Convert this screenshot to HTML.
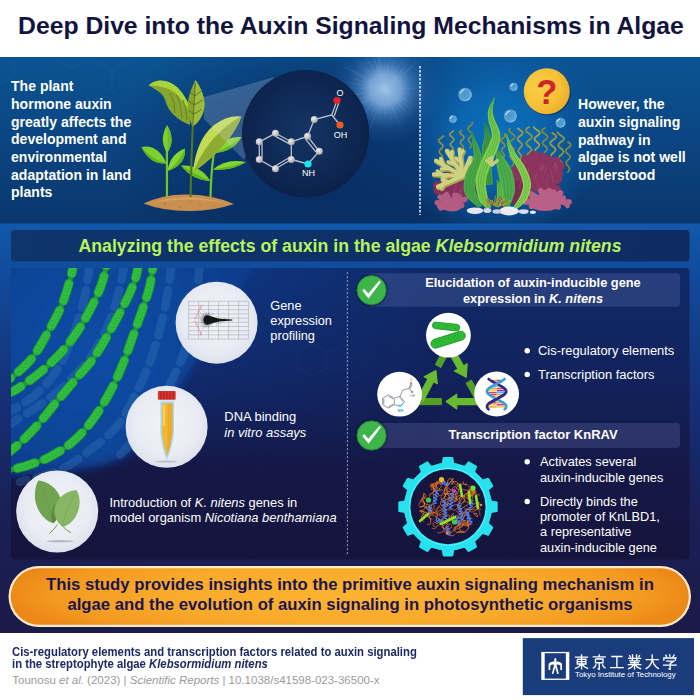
<!DOCTYPE html>
<html><head><meta charset="utf-8">
<style>
*{margin:0;padding:0;box-sizing:border-box}
html,body{width:700px;height:700px;overflow:hidden;background:#fff}
body{font-family:"Liberation Sans",sans-serif;position:relative}
.abs{position:absolute;white-space:nowrap}
#gfx{left:0;top:0;width:700px;height:700px}
#title{left:20px;top:11.5px;font-weight:bold;font-size:24.62px;line-height:28px;color:#13133f}
.t1{color:#fff;font-weight:bold;font-size:14.05px;line-height:17.65px}
.t2{color:#fff;font-size:12.75px;line-height:15.4px}
#bandt{left:78.5px;top:235.5px;font-weight:bold;font-size:17.72px;line-height:20px;color:#b8f25c}
.subt{color:#fff;font-weight:bold;font-size:12.8px;line-height:16.5px;text-align:center}
#pillt{left:0;width:700px;top:576.5px;text-align:center;font-weight:bold;font-size:16.72px;line-height:20px;color:#1c154f}
.f1{left:12.3px;font-weight:bold;font-size:12.4px;line-height:14px;color:#1d2a66;transform-origin:0 0;transform:scaleX(.913)}
.f3{left:12.3px;font-size:11.5px;line-height:14px;color:#9b9b9b}
</style></head><body>
<svg class="abs" id="gfx" viewBox="0 0 700 700" width="700" height="700"><defs>
<linearGradient id="topG" x1="0" y1="0" x2="0" y2="1"><stop offset="0" stop-color="#0b5493"/><stop offset=".5" stop-color="#0b4582"/><stop offset="1" stop-color="#0a366b"/></linearGradient>
<radialGradient id="topDark" cx="320" cy="160" r="210" gradientUnits="userSpaceOnUse" gradientTransform="translate(320 160) scale(1 .75) translate(-320 -160)"><stop offset="0" stop-color="#072559" stop-opacity=".6"/><stop offset=".55" stop-color="#072559" stop-opacity=".38"/><stop offset="1" stop-color="#072559" stop-opacity="0"/></radialGradient>
<radialGradient id="algGlow" cx="498" cy="135" r="105" gradientUnits="userSpaceOnUse"><stop offset="0" stop-color="#0a70ba" stop-opacity="1"/><stop offset=".4" stop-color="#0b69b3" stop-opacity=".9"/><stop offset=".75" stop-color="#0c5ea8" stop-opacity=".45"/><stop offset="1" stop-color="#0d5aa2" stop-opacity="0"/></radialGradient>
<linearGradient id="midG" x1="0" y1="0" x2="0" y2="1"><stop offset="0" stop-color="#1158ab"/><stop offset=".12" stop-color="#114b9b"/><stop offset=".4" stop-color="#15327a"/><stop offset=".7" stop-color="#1a2055"/><stop offset="1" stop-color="#1b1a49"/></linearGradient>
<linearGradient id="bandG" x1="0" y1="0" x2="1" y2="0"><stop offset="0" stop-color="#0e356c"/><stop offset="1" stop-color="#0e2c63"/></linearGradient>
<linearGradient id="panelG" x1="0" y1="0" x2="0" y2="1"><stop offset="0" stop-color="#0f2a68"/><stop offset=".35" stop-color="#12235d"/><stop offset=".7" stop-color="#151846"/><stop offset="1" stop-color="#15143d"/></linearGradient><linearGradient id="panelH" x1="180" y1="0" x2="440" y2="0" gradientUnits="userSpaceOnUse"><stop offset="0" stop-color="#0f44a0" stop-opacity=".55"/><stop offset="1" stop-color="#0f44a0" stop-opacity="0"/></linearGradient><linearGradient id="panelHV" x1="0" y1="268" x2="0" y2="470" gradientUnits="userSpaceOnUse"><stop offset="0" stop-color="#fff"/><stop offset="1" stop-color="#000"/></linearGradient><mask id="panelHM"><rect x="0" y="260" width="700" height="310" fill="url(#panelHV)"/></mask>
<radialGradient id="panelB" cx="95" cy="350" r="210" gradientUnits="userSpaceOnUse"><stop offset="0" stop-color="#0d4da6"/><stop offset=".5" stop-color="#0c4498"/><stop offset="1" stop-color="#0a3682"/></radialGradient>
<radialGradient id="circG" cx="305" cy="130" r="66" gradientUnits="userSpaceOnUse"><stop offset="0" stop-color="#143564"/><stop offset=".65" stop-color="#0f2955"/><stop offset="1" stop-color="#0c224b"/></radialGradient>
<radialGradient id="sunG"><stop offset="0" stop-color="#9dc2e8" stop-opacity=".95"/><stop offset=".28" stop-color="#7caadb" stop-opacity=".9"/><stop offset=".48" stop-color="#4f8ac8" stop-opacity=".58"/><stop offset=".72" stop-color="#3573b8" stop-opacity=".22"/><stop offset="1" stop-color="#2f6fb5" stop-opacity="0"/></radialGradient>
<radialGradient id="wcG" cx=".5" cy=".45" r=".55"><stop offset="0" stop-color="#f1f3f8"/><stop offset=".7" stop-color="#e9ecf3"/><stop offset="1" stop-color="#dde1ec"/></radialGradient>
<radialGradient id="qG" cx=".35" cy=".4" r=".75"><stop offset="0" stop-color="#f8cf45"/><stop offset=".6" stop-color="#f5c035"/><stop offset="1" stop-color="#eba726"/></radialGradient>
<radialGradient id="bubG" cx=".45" cy=".45" r=".58"><stop offset="0" stop-color="#4a94c8"/><stop offset=".75" stop-color="#5aa2d4"/><stop offset="1" stop-color="#a8d4f0"/></radialGradient>
<radialGradient id="pillG" cx="350" cy="594" r="345" gradientUnits="userSpaceOnUse" gradientTransform="translate(350 594) scale(1 .16) translate(-350 -594)"><stop offset="0" stop-color="#fcb331"/><stop offset=".55" stop-color="#f9aa2a"/><stop offset=".85" stop-color="#f39a20"/><stop offset="1" stop-color="#ec8818"/></radialGradient>
<radialGradient id="atomG" cx=".38" cy=".35" r=".7"><stop offset="0" stop-color="#eeeeee"/><stop offset=".6" stop-color="#c4c4c6"/><stop offset="1" stop-color="#9a9aa0"/></radialGradient>
<clipPath id="panelClip"><rect x="11" y="268" width="678.5" height="291.5" rx="4"/></clipPath>
<clipPath id="topClip"><rect x="0" y="57" width="700" height="166.5"/></clipPath>
<filter id="blur4" x="-10%" y="-10%" width="120%" height="120%"><feGaussianBlur stdDeviation="4"/></filter><filter id="blur05"><feGaussianBlur stdDeviation=".45"/></filter><filter id="blur1" x="-30%" y="-30%" width="160%" height="160%"><feGaussianBlur stdDeviation="1.2"/></filter></defs>
<rect x="0" y="57" width="700" height="167" fill="url(#topG)"/>
<rect x="0" y="57" width="700" height="167" fill="url(#topDark)"/>
<rect x="420" y="57" width="280" height="167" fill="url(#algGlow)"/>
<rect x="0" y="223.5" width="700" height="409.5" fill="url(#midG)"/>
<rect x="11" y="230" width="678.5" height="31.5" rx="4" fill="url(#bandG)"/>
<rect x="11" y="268" width="678.5" height="291.5" rx="4" fill="url(#panelG)"/>
<g clip-path="url(#panelClip)"><rect x="11" y="268" width="440" height="292" fill="url(#panelH)" mask="url(#panelHM)"/><path d="M0,255 L262,255 Q240,290 205,345 Q180,385 160,420 Q140,455 100,466 Q55,474 0,476Z" fill="url(#panelB)" filter="url(#blur4)"/></g>
<line x1="347.4" y1="272" x2="347.4" y2="556" stroke="#c9d4ee" stroke-width="1.1" stroke-dasharray="2.2 1.8" opacity=".6"/>
<rect x="8.5" y="566" width="682.5" height="61" rx="30.5" fill="#fdebc8"/>
<rect x="10.7" y="568.2" width="678.1" height="56.6" rx="28.3" fill="url(#pillG)"/>
<g fill="none" stroke="#ffffff" stroke-width="1" opacity=".035"><path d="M52,57 L70,68 L92,60 L112,70 L112,92 L132,104"/><path d="M0,84 L14,76 L14,60"/><path d="M112,70 L134,60"/><path d="M298,352 L312,344 L326,352 L326,368 L312,376 L298,368Z M326,352 L340,348 L348,360 L340,372 L326,368"/></g><g clip-path="url(#topClip)"><g><polygon points="385.0,91.2 421.0,88.3 385.0,86.8" fill="#cfe4fa" opacity="0.09"/><polygon points="384.6,91.1 414.4,95.2 385.4,86.9" fill="#cfe4fa" opacity="0.09"/><polygon points="384.4,90.5 413.2,99.3 385.6,87.5" fill="#cfe4fa" opacity="0.13"/><polygon points="383.9,91.0 414.9,105.2 386.1,87.0" fill="#cfe4fa" opacity="0.18"/><polygon points="383.4,91.0 413.5,111.0 386.6,87.0" fill="#cfe4fa" opacity="0.15"/><polygon points="383.4,90.5 408.0,114.0 386.6,87.5" fill="#cfe4fa" opacity="0.20"/><polygon points="383.3,90.1 404.5,119.3 386.7,87.9" fill="#cfe4fa" opacity="0.10"/><polygon points="382.7,89.9 400.9,127.9 387.3,88.1" fill="#cfe4fa" opacity="0.16"/><polygon points="382.5,89.6 392.3,122.2 387.5,88.4" fill="#cfe4fa" opacity="0.12"/><polygon points="382.5,89.0 384.9,119.0 387.5,89.0" fill="#cfe4fa" opacity="0.15"/><polygon points="382.8,88.6 379.1,122.5 387.2,89.4" fill="#cfe4fa" opacity="0.12"/><polygon points="383.0,88.3 367.5,135.8 387.0,89.7" fill="#cfe4fa" opacity="0.11"/><polygon points="383.6,88.2 368.1,120.8 386.4,89.8" fill="#cfe4fa" opacity="0.12"/><polygon points="382.9,87.2 358.0,121.2 387.1,90.8" fill="#cfe4fa" opacity="0.11"/><polygon points="383.6,87.1 361.1,107.1 386.4,90.9" fill="#cfe4fa" opacity="0.10"/><polygon points="383.9,87.1 342.1,114.7 386.1,90.9" fill="#cfe4fa" opacity="0.20"/><polygon points="384.1,86.7 353.6,102.0 385.9,91.3" fill="#cfe4fa" opacity="0.19"/><polygon points="384.6,86.9 339.9,97.9 385.4,91.1" fill="#cfe4fa" opacity="0.14"/><polygon points="385.1,86.1 355.0,88.1 384.9,91.9" fill="#cfe4fa" opacity="0.19"/><polygon points="385.3,87.4 339.7,81.1 384.7,90.6" fill="#cfe4fa" opacity="0.17"/><polygon points="386.0,86.0 352.8,78.0 384.0,92.0" fill="#cfe4fa" opacity="0.18"/><polygon points="386.4,86.4 341.1,65.0 383.6,91.6" fill="#cfe4fa" opacity="0.12"/><polygon points="386.2,87.7 354.1,60.5 383.8,90.3" fill="#cfe4fa" opacity="0.09"/><polygon points="386.3,87.8 356.5,58.1 383.7,90.2" fill="#cfe4fa" opacity="0.11"/><polygon points="386.4,88.2 359.5,46.0 383.6,89.8" fill="#cfe4fa" opacity="0.13"/><polygon points="387.7,88.0 372.9,55.1 382.3,90.0" fill="#cfe4fa" opacity="0.18"/><polygon points="388.1,88.4 375.2,40.0 381.9,89.6" fill="#cfe4fa" opacity="0.16"/><polygon points="386.8,89.0 384.5,53.0 383.2,89.0" fill="#cfe4fa" opacity="0.10"/><polygon points="386.5,89.2 390.3,53.4 383.5,88.8" fill="#cfe4fa" opacity="0.18"/><polygon points="386.4,89.5 398.0,49.1 383.6,88.5" fill="#cfe4fa" opacity="0.13"/><polygon points="386.8,90.0 401.6,59.3 383.2,88.0" fill="#cfe4fa" opacity="0.10"/><polygon points="386.9,90.8 407.8,63.8 383.1,87.2" fill="#cfe4fa" opacity="0.17"/><polygon points="386.8,91.2 420.1,59.3 383.2,86.8" fill="#cfe4fa" opacity="0.13"/><polygon points="386.2,91.0 410.8,73.7 383.8,87.0" fill="#cfe4fa" opacity="0.13"/><polygon points="385.8,91.1 418.4,75.6 384.2,86.9" fill="#cfe4fa" opacity="0.09"/><polygon points="385.2,90.5 414.6,84.1 384.8,87.5" fill="#cfe4fa" opacity="0.10"/><circle cx="385" cy="89" r="56" fill="url(#sunG)"/></g></g><g id="plant">
<!-- soil -->
<path d="M143.5,203.5 Q165,193.5 189,194.5 Q214,195 234,204 Q212,211.5 188,211 Q163,211 143.5,203.5Z" fill="#c98f4d"/>
<path d="M150,203.5 Q168,197 189,197.5 Q210,198 226,203.5 Q208,199.5 189,199.5 Q168,199.500 150,203.5Z" fill="#dba968" opacity=".8"/>
<g fill="#b37a3c"><circle cx="165" cy="204" r="1"/><circle cx="180" cy="207" r=".9"/><circle cx="200" cy="205" r="1"/><circle cx="214" cy="206" r=".9"/><circle cx="190" cy="202" r=".8"/></g>
<!-- left small plant -->
<path d="M167,197 L166.800,128" stroke="#6fc626" stroke-width="2.2" fill="none"/>
<path d="M167,125 Q176,140 167.200,153 Q158.500,140 167,125Z" fill="#7fd02c"/><path d="M167,125 Q176,140 167.200,153 Q168.500,138 167,125Z" fill="#6cc024"/>
<path d="M166.500,163.500 Q150,165 141.500,147 Q158,144 166.500,163.500Z" fill="#7fd02c"/>
<path d="M166.500,163.500 Q152,160 141.500,147 Q150,165 166.500,163.500Z" fill="#5fb51f"/>
<path d="M167.500,171 Q170,154 185,148.500 Q186,165 167.500,171Z" fill="#86d530"/>
<path d="M167.500,171 Q178,164 185,148.500 Q186,165 167.500,171Z" fill="#63b822"/>
<!-- right small plant -->
<path d="M210.500,197 Q211,172 214,152" stroke="#6fc626" stroke-width="2.2" fill="none"/>
<path d="M214,153 Q222,136 241.500,137 Q233,152 214,153Z" fill="#86d530"/>
<path d="M214,153 Q230,147 241.500,137 Q233,152 214,153Z" fill="#63b822"/>
<path d="M213,169.500 Q226,158 246,162 Q232,171 213,169.500Z" fill="#86d530"/>
<path d="M213,169.500 Q230,167 246,162 Q232,171 213,169.500Z" fill="#63b822"/>
<path d="M210.500,181 Q192,180 181,165.500 Q200,164 210.500,181Z" fill="#7fd02c"/>
<path d="M210.500,181 Q196,175 181,165.500 Q192,180 210.500,181Z" fill="#5fb51f"/>
<!-- big right leaf -->
<path d="M193,172 Q196,140 214,125 Q228,114.500 241.500,116.500 Q237,128 228,140 Q214,158 193,172Z" fill="#c2db54"/>
<path d="M193,172 Q204,146 222,130 Q232,121 241.500,116.500 Q237,128 228,140 Q214,158 193,172Z" fill="#8eab32"/>
<!-- main stem -->
<path d="M190.500,197 Q191.500,150 194.500,88" stroke="#4e7a1d" stroke-width="2.1" fill="none"/>
<!-- top left leaf -->
<path d="M148.500,85.500 Q153,81 160,80.500 Q170,80.500 177.500,87.500 Q185,95.500 189.500,106 L190,125 Q181,122 173.300,114.600 Q167,108 165.500,101 Q163,93 155.700,89.700 Q152,87 148.500,85.500Z" fill="#86a52e"/>
<path d="M148.500,85.500 Q153,81 160,80.500 Q170,80.500 177.500,87.500 Q185,95.500 189.500,106 L190,114 Q184,100 174,92 Q164,85 148.500,85.500Z" fill="#a8d23e"/>
<g stroke="#5b7a1c" stroke-width=".8" fill="none"><path d="M170,93 Q175,102 175,113"/><path d="M176.500,95 Q181.500,105 181.500,118"/><path d="M183,100 Q186.500,108 187,120"/></g>
<!-- top center leaf -->
<path d="M195.500,80 Q208,98 203,113 Q199,123 192.500,126.500 Q186,113 188,101 Q190,90 195.500,80Z" fill="#86a52e"/>
<path d="M195.500,80 Q208,98 203,113 Q199,123 192.500,126.500 Q194,100 195.500,80Z" fill="#9dbb3c"/>
<g stroke="#4b661a" stroke-width=".8" fill="none"><path d="M195.300,83 L192.800,126"/><path d="M194.800,96 L189.500,92"/><path d="M194.800,96 L201,91"/><path d="M194.300,105 L188.500,101"/><path d="M194.300,105 L202.500,100"/><path d="M193.800,114 L189,110.500"/><path d="M193.800,114 L201.500,109.500"/></g>
</g>
<!-- beam -->
<polygon points="204,97 274,77 244,160 204,119" fill="#dfeaf5" opacity=".2"/>
<!-- dark circle -->
<circle cx="305.600" cy="133.800" r="63.700" fill="url(#circG)"/>
<!-- molecule -->
<g stroke="#bcc0ca" stroke-width="1.3" fill="none" stroke-linecap="round">
<path d="M259.300,141.800 L275.500,133.300 L291.300,141.800 L291.300,159.500 L275.500,168.800 L259.300,159.500Z"/>
<path d="M262,143.600 L262,157.700"/><path d="M276,136.600 L288.600,143.400"/><path d="M276,165.500 L288.600,158"/>
<path d="M291.300,141.800 L307.500,136.300 L319.300,151.300 L308,164 L291.300,159.500"/>
<path d="M305.800,139.300 L315.600,151.600"/>
<path d="M307.500,136.300 L314.300,119.500 L331.800,115 L337,100.500"/><path d="M334.300,115.700 L339.400,101.300"/>
<path d="M331.800,115 L340,125"/>
</g>
<g fill="url(#atomG)">
<circle cx="259.300" cy="141.800" r="3.500"/><circle cx="275.500" cy="133.300" r="3.500"/><circle cx="291.300" cy="141.800" r="3.500"/><circle cx="291.300" cy="159.500" r="3.500"/><circle cx="275.500" cy="168.800" r="3.500"/><circle cx="259.300" cy="159.500" r="3.500"/><circle cx="307.500" cy="136.300" r="3.500"/><circle cx="319.300" cy="151.300" r="3.500"/><circle cx="314.300" cy="119.500" r="3.500"/>
</g>
<circle cx="308" cy="164" r="3.600" fill="#19e6ee"/>
<circle cx="337" cy="100.500" r="3.600" fill="#e8222a"/>
<circle cx="340" cy="125" r="3.600" fill="#ee5a24"/>
<g fill="#ffffff" font-family="Liberation Sans, sans-serif" font-size="9" text-anchor="middle"><text x="340" y="95.500">O</text><text x="340.500" y="138.300">OH</text><text x="308.500" y="176.300">NH</text></g>
<!-- dashed divider -->
<line x1="420" y1="66" x2="420" y2="215" stroke="#e8f0fb" stroke-width="1.500" stroke-dasharray="2.400 1.600"/>
<!-- question -->
<circle cx="547.800" cy="92.300" r="23.200" fill="#0a2a5c" opacity=".55"/>
<circle cx="546.800" cy="91.300" r="23" fill="url(#qG)"/>
<text x="546.900" y="103.600" fill="#d0232c" font-family="Liberation Sans, sans-serif" font-weight="bold" font-size="34.500" text-anchor="middle">?</text>
<!-- bubbles -->
<g>
<circle cx="465" cy="94.500" r="6.800" fill="url(#bubG)"/><circle cx="513.500" cy="86.700" r="4" fill="url(#bubG)"/><circle cx="510.300" cy="115.900" r="6.500" fill="url(#bubG)"/><circle cx="452.800" cy="119" r="3.800" fill="url(#bubG)"/><circle cx="560.400" cy="122.700" r="5" fill="url(#bubG)"/>
<g fill="none" stroke="#ffffff" stroke-width="1" stroke-linecap="round" opacity=".9"><path d="M460.500,93 A5,5 0 0 1 464,89.500"/><path d="M506,114.500 A4.800,4.800 0 0 1 509.300,111.200"/><path d="M511,86 A2.800,2.800 0 0 1 513,84"/><path d="M450.300,118.300 A2.600,2.600 0 0 1 452.200,116.400"/><path d="M557,121.700 A3.600,3.600 0 0 1 559.600,119.200"/></g>
</g>
<g id="algae"><path d="M441.0,160.0 L442.1,158.5 L442.5,157.0 L441.9,155.5 L440.5,154.0 L439.4,152.5 L439.3,151.0 L440.4,149.5 L442.1,148.0 L443.1,146.5 L442.7,145.0 L441.0,143.5 L439.2,142.0 L438.5,140.5 L439.6,139.0 L441.8,137.5 L443.5,136.0" fill="none" stroke="#8c8c3e" stroke-width="1.7" stroke-linecap="round" stroke-linejoin="round"/><path d="M452.0,152.0 L453.1,150.5 L453.4,149.0 L452.5,147.5 L451.1,146.0 L450.3,144.5 L451.0,143.0 L452.6,141.5 L453.8,140.0 L453.6,138.5 L452.0,137.0 L450.2,135.5 L449.8,134.0 L451.3,132.5 L453.4,131.0" fill="none" stroke="#9a9440" stroke-width="1.7" stroke-linecap="round" stroke-linejoin="round"/><path d="M462.0,150.0 L463.1,148.5 L463.4,147.0 L462.5,145.5 L461.0,144.0 L460.3,142.5 L460.9,141.0 L462.6,139.5 L463.9,138.0 L463.7,136.5 L462.0,135.0 L460.2,133.5 L459.7,132.0 L461.2,130.5" fill="none" stroke="#8c8c3e" stroke-width="1.7" stroke-linecap="round" stroke-linejoin="round"/><path d="M470.0,148.0 L471.0,146.5 L471.4,145.0 L470.8,143.5 L469.6,142.0 L468.5,140.5 L468.5,139.0 L469.5,137.5 L471.0,136.0 L471.9,134.5 L471.5,133.0 L470.0,131.5 L468.4,130.0 L467.8,128.5 L468.8,127.0 L470.7,125.5 L472.2,124.0 L472.3,122.5" fill="none" stroke="#7f8a3a" stroke-width="1.7" stroke-linecap="round" stroke-linejoin="round"/><path d="M512.0,166.0 L513.1,164.5 L513.7,163.0 L513.5,161.5 L512.5,160.0 L511.1,158.5 L510.1,157.0 L510.1,155.5 L511.0,154.0 L512.5,152.5 L513.9,151.0 L514.3,149.5 L513.6,148.0 L512.0,146.5 L510.3,145.0 L509.4,143.5 L509.8,142.0 L511.4,140.5 L513.3,139.0 L514.7,137.5 L514.7,136.0 L513.4,134.5 L511.3,133.0 L509.4,131.5 L508.9,130.0 L509.9,128.5" fill="none" stroke="#7a8c3c" stroke-width="1.7" stroke-linecap="round" stroke-linejoin="round"/><path d="M520.0,160.0 L521.1,158.5 L521.6,157.0 L521.2,155.5 L520.0,154.0 L518.7,152.5 L518.1,151.0 L518.6,149.5 L520.0,148.0 L521.5,146.5 L522.2,145.0 L521.6,143.5 L520.0,142.0 L518.3,140.5 L517.5,139.0 L518.2,137.5 L520.0,136.0 L521.9,134.5 L522.8,133.0 L522.0,131.5 L520.0,130.0 L517.9,128.5" fill="none" stroke="#a29a40" stroke-width="1.7" stroke-linecap="round" stroke-linejoin="round"/><path d="M529.0,166.0 L530.2,164.5 L530.9,163.0 L530.6,161.5 L529.5,160.0 L528.0,158.5 L527.0,157.0 L526.9,155.5 L527.9,154.0 L529.6,152.5 L531.0,151.0 L531.5,149.5 L530.7,148.0 L529.0,146.5 L527.2,145.0 L526.3,143.5 L526.7,142.0 L528.3,140.5 L530.4,139.0 L531.8,137.5 L531.9,136.0 L530.5,134.5 L528.2,133.0 L526.3,131.5 L525.7,130.0 L526.8,128.5 L529.0,127.0" fill="none" stroke="#8f9a3e" stroke-width="1.7" stroke-linecap="round" stroke-linejoin="round"/><path d="M537.0,160.0 L538.2,158.5 L538.8,157.0 L538.3,155.5 L537.0,154.0 L535.6,152.5 L534.9,151.0 L535.5,149.5 L537.0,148.0 L538.6,146.5 L539.3,145.0 L538.7,143.5 L537.0,142.0 L535.2,140.5 L534.4,139.0 L535.1,137.5 L537.0,136.0 L539.0,134.5 L539.9,133.0 L539.1,131.5 L537.0,130.0 L534.8,128.5 L533.8,127.0" fill="none" stroke="#a8a042" stroke-width="1.7" stroke-linecap="round" stroke-linejoin="round"/><path d="M545.0,164.0 L546.2,162.5 L546.8,161.0 L546.3,159.5 L545.0,158.0 L543.6,156.5 L543.0,155.0 L543.5,153.5 L545.0,152.0 L546.6,150.5 L547.3,149.0 L546.7,147.5 L545.0,146.0 L543.2,144.5 L542.4,143.0 L543.1,141.5 L545.0,140.0 L547.0,138.5 L547.8,137.0 L547.1,135.5 L545.0,134.0 L542.8,132.5 L541.9,131.0 L542.7,129.5 L545.0,128.0" fill="none" stroke="#7a8c3c" stroke-width="1.7" stroke-linecap="round" stroke-linejoin="round"/><path d="M553.0,166.0 L554.2,164.5 L554.9,163.0 L554.6,161.5 L553.5,160.0 L552.0,158.5 L550.9,157.0 L550.9,155.5 L551.9,154.0 L553.6,152.5 L555.1,151.0 L555.6,149.5 L554.8,148.0 L553.0,146.5 L551.1,145.0 L550.1,143.5 L550.5,142.0 L552.3,140.5 L554.5,139.0 L556.0,137.5 L556.1,136.0 L554.6,134.5 L552.2,133.0" fill="none" stroke="#a29a40" stroke-width="1.7" stroke-linecap="round" stroke-linejoin="round"/><path d="M561.0,168.0 L562.2,166.5 L562.9,165.0 L562.6,163.5 L561.5,162.0 L560.0,160.5 L559.0,159.0 L558.9,157.5 L559.9,156.0 L561.6,154.5 L563.0,153.0 L563.5,151.5 L562.7,150.0 L561.0,148.5 L559.2,147.0 L558.2,145.5 L558.6,144.0 L560.3,142.5 L562.4,141.0 L563.9,139.5 L564.0,138.0 L562.5,136.5 L560.2,135.0 L558.2,133.5 L557.5,132.0" fill="none" stroke="#8f9a3e" stroke-width="1.7" stroke-linecap="round" stroke-linejoin="round"/><path d="M568.0,172.0 L569.1,170.5 L569.6,169.0 L569.2,167.5 L568.0,166.0 L566.7,164.5 L566.0,163.0 L566.6,161.5 L568.0,160.0 L569.5,158.5 L570.2,157.0 L569.6,155.5 L568.0,154.0 L566.2,152.5 L565.5,151.0 L566.1,149.5 L568.0,148.0 L570.0,146.5 L570.9,145.0 L570.1,143.5 L568.0,142.0" fill="none" stroke="#7a8c3c" stroke-width="1.7" stroke-linecap="round" stroke-linejoin="round"/><path d="M503.0,158.0 L504.1,156.5 L504.3,155.0 L503.5,153.5 L502.1,152.0 L501.4,150.5 L502.0,149.0 L503.6,147.5 L504.8,146.0 L504.6,144.5 L503.0,143.0 L501.3,141.5 L500.9,140.0 L502.3,138.5 L504.4,137.0 L505.4,135.5 L504.5,134.0" fill="none" stroke="#8c8c3e" stroke-width="1.7" stroke-linecap="round" stroke-linejoin="round"/><ellipse cx="457" cy="187" rx="16.6" ry="11.0" fill="#84305a"/><circle cx="475.2" cy="186.0" r="3.9" fill="#84305a"/><circle cx="473.4" cy="193.2" r="3.3" fill="#84305a"/><circle cx="470.8" cy="196.8" r="3.7" fill="#84305a"/><circle cx="461.2" cy="200.9" r="4.1" fill="#84305a"/><circle cx="449.0" cy="197.6" r="4.5" fill="#84305a"/><circle cx="444.3" cy="196.3" r="5.0" fill="#84305a"/><circle cx="438.0" cy="190.0" r="4.6" fill="#84305a"/><circle cx="437.4" cy="185.5" r="4.4" fill="#84305a"/><circle cx="445.2" cy="180.8" r="5.0" fill="#84305a"/><circle cx="450.0" cy="174.9" r="5.0" fill="#84305a"/><circle cx="460.8" cy="173.4" r="4.0" fill="#84305a"/><circle cx="468.3" cy="178.0" r="5.1" fill="#84305a"/><circle cx="471.4" cy="183.3" r="3.4" fill="#84305a"/><ellipse cx="538" cy="175" rx="22.1" ry="16.6" fill="#8a345e"/><circle cx="558.5" cy="173.8" r="4.7" fill="#8a345e"/><circle cx="557.5" cy="179.0" r="4.8" fill="#8a345e"/><circle cx="555.3" cy="190.2" r="5.7" fill="#8a345e"/><circle cx="550.6" cy="190.6" r="4.4" fill="#8a345e"/><circle cx="541.9" cy="190.2" r="4.3" fill="#8a345e"/><circle cx="527.4" cy="193.5" r="5.8" fill="#8a345e"/><circle cx="523.7" cy="186.9" r="4.5" fill="#8a345e"/><circle cx="515.4" cy="184.6" r="5.9" fill="#8a345e"/><circle cx="517.6" cy="176.1" r="5.3" fill="#8a345e"/><circle cx="514.6" cy="170.8" r="4.2" fill="#8a345e"/><circle cx="520.5" cy="167.0" r="6.1" fill="#8a345e"/><circle cx="525.5" cy="159.3" r="4.5" fill="#8a345e"/><circle cx="534.2" cy="156.8" r="6.0" fill="#8a345e"/><circle cx="542.7" cy="157.3" r="4.8" fill="#8a345e"/><circle cx="549.0" cy="159.5" r="4.2" fill="#8a345e"/><circle cx="556.6" cy="160.7" r="3.9" fill="#8a345e"/><circle cx="560.0" cy="165.9" r="4.5" fill="#8a345e"/><ellipse cx="519" cy="193" rx="8.3" ry="8.3" fill="#7c2c54"/><circle cx="529.5" cy="192.1" r="2.8" fill="#7c2c54"/><circle cx="524.6" cy="198.3" r="3.1" fill="#7c2c54"/><circle cx="519.2" cy="201.1" r="3.7" fill="#7c2c54"/><circle cx="514.7" cy="200.7" r="3.5" fill="#7c2c54"/><circle cx="509.9" cy="197.3" r="2.8" fill="#7c2c54"/><circle cx="511.8" cy="191.0" r="3.1" fill="#7c2c54"/><circle cx="513.6" cy="184.2" r="3.3" fill="#7c2c54"/><circle cx="519.5" cy="184.8" r="4.4" fill="#7c2c54"/><circle cx="525.3" cy="186.1" r="3.3" fill="#7c2c54"/><path d="M537.4,171.9 q-2.2,4.6 -2.0,7.0" stroke="#a04a72" stroke-width="1" fill="none" opacity=".7"/><path d="M555.7,162.6 q0.3,3.8 -1.8,6.5" stroke="#a04a72" stroke-width="1" fill="none" opacity=".7"/><path d="M547.5,174.5 q1.4,2.5 -1.0,5.4" stroke="#a04a72" stroke-width="1" fill="none" opacity=".7"/><path d="M539.3,189.6 q0.5,4.3 -0.5,8.0" stroke="#a04a72" stroke-width="1" fill="none" opacity=".7"/><path d="M522.3,169.3 q1.0,4.2 -0.3,5.4" stroke="#a04a72" stroke-width="1" fill="none" opacity=".7"/><path d="M529.2,166.7 q-1.3,4.4 -1.2,8.5" stroke="#a04a72" stroke-width="1" fill="none" opacity=".7"/><path d="M554.9,161.8 q-0.7,3.5 -1.9,6.7" stroke="#a04a72" stroke-width="1" fill="none" opacity=".7"/><path d="M556.1,163.6 q0.6,2.4 0.3,8.6" stroke="#a04a72" stroke-width="1" fill="none" opacity=".7"/><path d="M526.5,160.3 q-2.5,3.6 -1.9,5.3" stroke="#a04a72" stroke-width="1" fill="none" opacity=".7"/><path d="M538.9,189.5 q-0.5,3.2 0.6,5.4" stroke="#a04a72" stroke-width="1" fill="none" opacity=".7"/><path d="M542.4,165.5 q0.7,4.9 -1.8,7.2" stroke="#a04a72" stroke-width="1" fill="none" opacity=".7"/><path d="M543.5,164.8 q-1.4,5.0 2.0,5.5" stroke="#a04a72" stroke-width="1" fill="none" opacity=".7"/><path d="M547.6,190.4 q-1.6,3.8 -1.8,6.5" stroke="#a04a72" stroke-width="1" fill="none" opacity=".7"/><path d="M546.3,178.9 q1.6,2.3 -0.6,8.5" stroke="#a04a72" stroke-width="1" fill="none" opacity=".7"/><path d="M542.5,174.4 q-0.6,5.0 0.3,5.1" stroke="#a04a72" stroke-width="1" fill="none" opacity=".7"/><path d="M551.6,170.5 q-0.4,2.6 -0.2,6.3" stroke="#a04a72" stroke-width="1" fill="none" opacity=".7"/><path d="M521.7,180.1 q-2.4,4.4 -1.9,8.1" stroke="#a04a72" stroke-width="1" fill="none" opacity=".7"/><path d="M551.9,175.9 q1.3,2.7 1.0,6.7" stroke="#a04a72" stroke-width="1" fill="none" opacity=".7"/><path d="M527.7,190.9 q-0.6,3.1 1.4,6.5" stroke="#a04a72" stroke-width="1" fill="none" opacity=".7"/><path d="M546.0,165.5 q2.1,2.8 -1.8,8.9" stroke="#a04a72" stroke-width="1" fill="none" opacity=".7"/><path d="M525.3,190.3 q2.9,3.8 -2.0,5.2" stroke="#a04a72" stroke-width="1" fill="none" opacity=".7"/><path d="M526.8,172.4 q0.7,4.9 -0.6,5.6" stroke="#a04a72" stroke-width="1" fill="none" opacity=".7"/><path d="M541.6,164.4 q-2.5,3.7 0.8,5.3" stroke="#a04a72" stroke-width="1" fill="none" opacity=".7"/><path d="M537.0,182.5 q1.6,3.1 1.5,5.7" stroke="#a04a72" stroke-width="1" fill="none" opacity=".7"/><path d="M548.0,184.7 q2.3,3.5 -1.6,5.2" stroke="#a04a72" stroke-width="1" fill="none" opacity=".7"/><path d="M540.2,165.5 q0.8,2.3 1.1,5.9" stroke="#a04a72" stroke-width="1" fill="none" opacity=".7"/><path d="M442.4,181.5 q-0.3,3.7 -0.4,5.5" stroke="#a04a72" stroke-width="1" fill="none" opacity=".7"/><path d="M455.5,196.9 q0.2,4.8 -1.9,8.0" stroke="#a04a72" stroke-width="1" fill="none" opacity=".7"/><path d="M466.9,188.9 q0.1,3.6 1.6,5.2" stroke="#a04a72" stroke-width="1" fill="none" opacity=".7"/><path d="M460.0,188.8 q-1.2,4.2 0.9,5.3" stroke="#a04a72" stroke-width="1" fill="none" opacity=".7"/><path d="M461.6,187.1 q-0.1,3.9 -1.8,6.8" stroke="#a04a72" stroke-width="1" fill="none" opacity=".7"/><path d="M452.4,195.6 q-1.6,4.5 0.9,6.9" stroke="#a04a72" stroke-width="1" fill="none" opacity=".7"/><path d="M466.5,178.7 q0.6,3.8 0.7,6.2" stroke="#a04a72" stroke-width="1" fill="none" opacity=".7"/><path d="M443.9,181.8 q0.6,2.5 -1.7,6.1" stroke="#a04a72" stroke-width="1" fill="none" opacity=".7"/><path d="M455.2,188.7 q-2.8,4.3 -0.7,7.3" stroke="#a04a72" stroke-width="1" fill="none" opacity=".7"/><path d="M442.2,197.1 q0.5,4.9 1.9,7.5" stroke="#a04a72" stroke-width="1" fill="none" opacity=".7"/><path d="M445.0,185.0 q-1.6,4.3 -1.2,5.7" stroke="#a04a72" stroke-width="1" fill="none" opacity=".7"/><path d="M445.1,180.4 q2.6,4.9 -0.5,7.2" stroke="#a04a72" stroke-width="1" fill="none" opacity=".7"/><path d="M455.1,188.4 q-0.8,3.9 -1.1,5.8" stroke="#a04a72" stroke-width="1" fill="none" opacity=".7"/><path d="M456.5,181.9 q-0.4,4.8 -1.9,5.3" stroke="#a04a72" stroke-width="1" fill="none" opacity=".7"/><path d="M463.5,177.0 L460.2,150.2" stroke="#a9ab52" stroke-width="5.2" stroke-linecap="round"/><path d="M461.9,163.6 L456.7,158.8" stroke="#a9ab52" stroke-width="4.4" stroke-linecap="round"/><path d="M461.0,156.9 L463.8,151.6" stroke="#a9ab52" stroke-width="4.4" stroke-linecap="round"/><path d="M463.5,177.0 L447.6,151.6" stroke="#a9ab52" stroke-width="5.2" stroke-linecap="round"/><path d="M456.3,165.6 L448.8,162.8" stroke="#a9ab52" stroke-width="4.4" stroke-linecap="round"/><path d="M452.4,159.2 L452.7,152.2" stroke="#a9ab52" stroke-width="4.4" stroke-linecap="round"/><path d="M463.5,177.0 L436.7,161.5" stroke="#a9ab52" stroke-width="5.2" stroke-linecap="round"/><path d="M450.1,169.2 L442.1,169.9" stroke="#a9ab52" stroke-width="4.4" stroke-linecap="round"/><path d="M444.2,165.8 L441.5,159.3" stroke="#a9ab52" stroke-width="4.4" stroke-linecap="round"/><path d="M463.5,177.0 L434.6,175.0" stroke="#a9ab52" stroke-width="5.2" stroke-linecap="round"/><path d="M449.0,176.0 L443.0,179.6" stroke="#a9ab52" stroke-width="4.4" stroke-linecap="round"/><path d="M442.7,175.5 L438.0,171.8" stroke="#a9ab52" stroke-width="4.4" stroke-linecap="round"/><path d="M463.5,177.0 L438.6,187.5" stroke="#a9ab52" stroke-width="5.2" stroke-linecap="round"/><path d="M449.8,182.8 L443.1,181.0" stroke="#a9ab52" stroke-width="4.4" stroke-linecap="round"/><path d="M444.9,184.9 L441.9,188.9" stroke="#a9ab52" stroke-width="4.4" stroke-linecap="round"/><path d="M463.5,177.0 L471.0,158.5" stroke="#a9ab52" stroke-width="5.2" stroke-linecap="round"/><path d="M468.0,165.9 L473.0,162.6" stroke="#a9ab52" stroke-width="4.4" stroke-linecap="round"/><path d="M462.6,176.0 L459.3,149.2" stroke="#cfd182" stroke-width="3.6" stroke-linecap="round"/><path d="M461.0,162.6 L455.8,157.8" stroke="#cfd182" stroke-width="3.1" stroke-linecap="round"/><path d="M460.1,155.9 L462.9,150.6" stroke="#cfd182" stroke-width="3.1" stroke-linecap="round"/><path d="M462.6,176.0 L446.7,150.6" stroke="#cfd182" stroke-width="3.6" stroke-linecap="round"/><path d="M455.4,164.6 L447.9,161.8" stroke="#cfd182" stroke-width="3.1" stroke-linecap="round"/><path d="M451.5,158.2 L451.8,151.2" stroke="#cfd182" stroke-width="3.1" stroke-linecap="round"/><path d="M462.6,176.0 L435.8,160.5" stroke="#cfd182" stroke-width="3.6" stroke-linecap="round"/><path d="M449.2,168.2 L441.2,168.9" stroke="#cfd182" stroke-width="3.1" stroke-linecap="round"/><path d="M443.3,164.8 L440.6,158.3" stroke="#cfd182" stroke-width="3.1" stroke-linecap="round"/><path d="M462.6,176.0 L433.7,174.0" stroke="#cfd182" stroke-width="3.6" stroke-linecap="round"/><path d="M448.1,175.0 L442.1,178.6" stroke="#cfd182" stroke-width="3.1" stroke-linecap="round"/><path d="M441.8,174.5 L437.1,170.8" stroke="#cfd182" stroke-width="3.1" stroke-linecap="round"/><path d="M462.6,176.0 L437.7,186.5" stroke="#cfd182" stroke-width="3.6" stroke-linecap="round"/><path d="M448.9,181.8 L442.2,180.0" stroke="#cfd182" stroke-width="3.1" stroke-linecap="round"/><path d="M444.0,183.9 L441.0,187.9" stroke="#cfd182" stroke-width="3.1" stroke-linecap="round"/><path d="M462.6,176.0 L470.1,157.5" stroke="#cfd182" stroke-width="3.6" stroke-linecap="round"/><path d="M467.1,164.9 L472.1,161.6" stroke="#cfd182" stroke-width="3.1" stroke-linecap="round"/><path d="M452.0,204.0 L437.1,202.7" stroke="#b25c84" stroke-width="5.2" stroke-linecap="round"/><path d="M443.0,203.2 L438.9,206.1" stroke="#b25c84" stroke-width="4.4" stroke-linecap="round"/><path d="M452.0,204.0 L439.9,197.0" stroke="#b25c84" stroke-width="5.2" stroke-linecap="round"/><path d="M445.9,200.5 L444.2,195.8" stroke="#b25c84" stroke-width="4.4" stroke-linecap="round"/><path d="M452.0,204.0 L446.5,194.5" stroke="#b25c84" stroke-width="5.2" stroke-linecap="round"/><path d="M452.0,204.0 L457.0,195.3" stroke="#b25c84" stroke-width="5.2" stroke-linecap="round"/><path d="M455.0,198.8 L454.3,194.9" stroke="#b25c84" stroke-width="4.4" stroke-linecap="round"/><path d="M452.0,204.0 L465.2,199.2" stroke="#b25c84" stroke-width="5.2" stroke-linecap="round"/><path d="M458.6,201.6 L460.3,196.9" stroke="#b25c84" stroke-width="4.4" stroke-linecap="round"/><path d="M452.0,204.0 L440.7,208.1" stroke="#b25c84" stroke-width="5.2" stroke-linecap="round"/><path d="M452.0,204.0 L461.8,205.7" stroke="#b25c84" stroke-width="5.2" stroke-linecap="round"/><ellipse cx="452" cy="205" rx="11" ry="6.5" fill="#b25c84"/><path d="M545.0,202.0 L525.0,202.0" stroke="#b86088" stroke-width="5.6" stroke-linecap="round"/><path d="M535.0,202.0 L531.1,206.6" stroke="#b86088" stroke-width="4.8" stroke-linecap="round"/><path d="M529.0,202.0 L525.2,198.8" stroke="#b86088" stroke-width="4.8" stroke-linecap="round"/><path d="M545.0,202.0 L531.1,194.0" stroke="#b86088" stroke-width="5.6" stroke-linecap="round"/><path d="M536.7,197.2 L531.8,198.1" stroke="#b86088" stroke-width="4.8" stroke-linecap="round"/><path d="M545.0,202.0 L540.9,190.7" stroke="#b86088" stroke-width="5.6" stroke-linecap="round"/><path d="M542.9,196.4 L545.4,192.0" stroke="#b86088" stroke-width="4.8" stroke-linecap="round"/><path d="M545.0,202.0 L549.1,190.7" stroke="#b86088" stroke-width="5.6" stroke-linecap="round"/><path d="M545.0,202.0 L560.6,193.0" stroke="#b86088" stroke-width="5.6" stroke-linecap="round"/><path d="M552.8,197.5 L553.8,191.6" stroke="#b86088" stroke-width="4.8" stroke-linecap="round"/><path d="M555.9,195.7 L560.6,197.4" stroke="#b86088" stroke-width="4.8" stroke-linecap="round"/><path d="M545.0,202.0 L569.0,202.0" stroke="#b86088" stroke-width="5.6" stroke-linecap="round"/><path d="M559.4,202.0 L563.6,197.8" stroke="#b86088" stroke-width="4.8" stroke-linecap="round"/><path d="M564.2,202.0 L567.4,205.8" stroke="#b86088" stroke-width="4.8" stroke-linecap="round"/><path d="M545.0,202.0 L558.2,206.8" stroke="#b86088" stroke-width="5.6" stroke-linecap="round"/><ellipse cx="545" cy="203" rx="16" ry="8" fill="#b86088"/><path d="M509.4,207.3 C510.3,204.4 514.6,195.9 515.0,189.7 C515.4,183.5 513.7,175.7 511.8,170.2 C509.8,164.7 505.6,160.1 503.3,156.7 C501.0,153.3 498.8,151.0 497.9,149.9 L497.1,150.1 C496.9,151.6 495.5,155.3 495.7,159.3 C495.9,163.2 497.4,168.6 498.2,173.8 C499.1,179.0 500.1,184.8 501.0,190.3 C501.9,195.8 503.0,204.0 503.4,206.7Z" fill="#4fae4c"/><path d="M505.1,206.9 C505.0,204.1 505.4,195.8 504.9,190.1 C504.3,184.4 503.1,178.1 502.0,172.8 C500.8,167.6 498.6,162.4 497.8,158.6 C497.0,154.8 497.4,151.5 497.3,150.0" fill="none" stroke="#2f8a38" stroke-width=".7" opacity=".8"/><path d="M506.4,207.0 C506.7,204.2 508.2,195.8 508.0,190.0 C507.8,184.2 506.4,177.3 505.0,172.0 C503.6,166.7 500.8,161.7 499.5,158.0 C498.2,154.3 497.8,151.3 497.5,150.0" fill="none" stroke="#2f8a38" stroke-width=".7" opacity=".8"/><path d="M507.7,207.1 C508.3,204.3 511.1,195.9 511.1,189.9 C511.2,183.9 509.7,176.6 508.0,171.2 C506.4,165.8 502.9,161.0 501.2,157.4 C499.5,153.9 498.3,151.2 497.7,150.0" fill="none" stroke="#2f8a38" stroke-width=".7" opacity=".8"/><path d="M482.7,204.9 C481.5,202.5 476.2,194.7 475.2,190.3 C474.2,185.9 475.7,183.3 476.8,178.4 C478.0,173.4 481.7,166.1 482.0,160.7 C482.2,155.2 480.1,150.6 478.3,145.8 C476.6,141.0 472.7,134.1 471.6,131.7 L471.0,131.9 C471.3,134.4 472.5,142.4 472.9,147.0 C473.2,151.6 474.3,154.6 473.0,159.3 C471.8,164.1 466.5,169.9 465.2,175.6 C463.8,181.4 462.5,188.3 464.8,193.7 C467.0,199.1 476.4,205.5 478.7,207.9Z" fill="#4aa848"/><path d="M479.8,207.1 C477.8,204.7 469.6,197.9 467.6,192.8 C465.7,187.7 467.1,181.9 468.4,176.4 C469.7,170.9 474.5,164.7 475.5,159.7 C476.5,154.7 475.1,151.3 474.4,146.7 C473.6,142.0 471.7,134.3 471.2,131.8" fill="none" stroke="#2f8a38" stroke-width=".7" opacity=".8"/><path d="M480.7,206.4 C478.9,204.0 471.6,196.9 470.0,192.0 C468.4,187.1 469.8,182.3 471.0,177.0 C472.2,171.7 476.7,165.1 477.5,160.0 C478.3,154.9 476.6,151.1 475.6,146.4 C474.6,141.7 472.0,134.2 471.3,131.8" fill="none" stroke="#2f8a38" stroke-width=".7" opacity=".8"/><path d="M481.6,205.7 C480.1,203.3 473.7,195.9 472.4,191.2 C471.0,186.5 472.4,182.8 473.6,177.6 C474.8,172.5 479.0,165.5 479.5,160.3 C480.0,155.1 478.2,150.9 476.8,146.1 C475.5,141.4 472.3,134.2 471.4,131.8" fill="none" stroke="#2f8a38" stroke-width=".7" opacity=".8"/><path d="M493.0,184.6 C492.7,181.3 492.0,170.7 491.5,164.6 C491.0,158.5 490.2,153.0 490.0,148.1 C489.8,143.1 491.4,139.2 490.5,134.8 C489.6,130.5 485.7,124.1 484.8,121.9 L484.2,122.1 C484.3,124.3 484.9,130.9 484.5,135.2 C484.1,139.5 482.3,142.9 482.0,147.9 C481.7,153.0 482.0,159.1 482.5,165.4 C483.0,171.6 484.6,182.1 485.0,185.4Z" fill="#3f9e44"/><path d="M487.2,185.2 C486.8,181.8 485.5,171.4 485.0,165.2 C484.5,159.0 484.0,153.0 484.2,148.0 C484.4,143.0 486.1,139.4 486.2,135.1 C486.2,130.8 484.7,124.2 484.4,122.0" fill="none" stroke="#2a7a34" stroke-width=".7" opacity=".8"/><path d="M489.0,185.0 C488.7,181.7 487.5,171.2 487.0,165.0 C486.5,158.8 485.9,153.0 486.0,148.0 C486.1,143.0 487.8,139.3 487.5,135.0 C487.2,130.7 485.0,124.2 484.5,122.0" fill="none" stroke="#2a7a34" stroke-width=".7" opacity=".8"/><path d="M490.8,184.8 C490.5,181.5 489.5,171.0 489.0,164.8 C488.5,158.7 487.8,153.0 487.8,148.0 C487.8,143.0 489.4,139.3 488.8,134.9 C488.3,130.6 485.3,124.1 484.6,122.0" fill="none" stroke="#2a7a34" stroke-width=".7" opacity=".8"/><path d="M491.5,206.7 C490.8,205.0 488.5,200.7 487.6,196.4 C486.7,192.2 485.4,186.3 485.9,181.1 C486.4,175.9 488.6,170.8 490.7,165.3 C492.7,159.8 496.6,153.3 498.2,148.0 C499.8,142.8 500.8,138.5 500.2,133.7 C499.6,128.9 495.9,123.2 494.6,119.3 C493.4,115.4 492.7,113.9 492.7,110.3 C492.7,106.7 494.4,99.8 494.7,97.7 L494.1,97.5 C493.1,99.5 489.3,105.9 488.3,109.7 C487.4,113.6 487.8,116.6 488.4,120.7 C489.0,124.8 491.7,130.3 491.8,134.3 C491.9,138.3 490.6,140.2 488.8,144.8 C487.0,149.3 483.1,155.8 480.9,161.7 C478.7,167.6 475.8,174.1 475.5,180.3 C475.2,186.6 477.1,194.3 479.0,199.2 C480.9,204.0 485.8,207.6 487.1,209.3Z" fill="#7ccc4e"/><path d="M488.3,208.6 C487.2,206.9 483.0,203.1 481.4,198.4 C479.7,193.7 478.0,186.5 478.4,180.5 C478.7,174.6 481.4,168.5 483.6,162.7 C485.8,156.9 489.6,150.4 491.4,145.7 C493.1,140.9 494.3,138.4 494.1,134.1 C493.9,129.9 490.9,124.4 490.1,120.3 C489.3,116.3 488.8,113.7 489.5,109.9 C490.2,106.1 493.5,99.6 494.3,97.6" fill="none" stroke="#3f9e3c" stroke-width=".7" opacity=".8"/><path d="M489.3,208.0 C488.3,206.3 484.7,202.4 483.3,197.8 C481.9,193.2 480.3,186.4 480.7,180.7 C481.1,175.0 483.7,169.2 485.8,163.5 C487.9,157.8 491.8,151.3 493.5,146.4 C495.2,141.5 496.3,138.4 496.0,134.0 C495.7,129.6 492.4,124.0 491.5,120.0 C490.6,116.0 490.0,113.7 490.5,110.0 C491.0,106.3 493.8,99.7 494.4,97.6" fill="none" stroke="#3f9e3c" stroke-width=".7" opacity=".8"/><path d="M490.3,207.4 C489.4,205.7 486.4,201.6 485.2,197.2 C484.0,192.8 482.6,186.3 483.0,180.9 C483.5,175.4 485.9,169.9 488.0,164.3 C490.1,158.7 494.0,152.2 495.6,147.1 C497.3,142.1 498.3,138.4 497.9,133.9 C497.4,129.3 494.0,123.6 492.9,119.7 C491.8,115.7 491.2,113.8 491.5,110.1 C491.8,106.5 494.0,99.7 494.5,97.6" fill="none" stroke="#3f9e3c" stroke-width=".7" opacity=".8"/><path d="M516.5,209.3 C518.3,207.7 524.5,203.8 526.9,199.5 C529.3,195.2 531.3,189.2 531.0,183.8 C530.7,178.4 528.1,172.6 525.2,167.1 C522.4,161.5 517.0,156.1 513.9,150.5 C510.8,144.9 507.9,136.3 506.7,133.4 L506.1,133.6 C506.6,136.7 507.1,146.4 509.1,152.5 C511.2,158.7 516.1,165.1 518.4,170.3 C520.7,175.6 522.7,179.9 523.0,184.2 C523.3,188.5 521.7,192.4 520.1,196.1 C518.5,199.8 514.6,204.9 513.5,206.7Z" fill="#8cd452"/><path d="M514.3,207.4 C515.6,205.7 520.2,200.9 522.0,197.0 C523.8,193.1 525.5,188.7 525.2,184.1 C524.9,179.5 522.7,174.8 520.3,169.4 C517.8,164.1 512.8,158.0 510.4,152.0 C508.1,146.0 507.0,136.6 506.3,133.5" fill="none" stroke="#4aa640" stroke-width=".7" opacity=".8"/><path d="M515.0,208.0 C516.4,206.3 521.5,201.8 523.5,197.8 C525.5,193.8 527.3,188.8 527.0,184.0 C526.7,179.2 524.4,174.1 521.8,168.7 C519.2,163.3 514.1,157.4 511.5,151.5 C508.9,145.6 507.2,136.5 506.4,133.5" fill="none" stroke="#4aa640" stroke-width=".7" opacity=".8"/><path d="M515.7,208.6 C517.2,206.9 522.8,202.7 525.0,198.6 C527.2,194.5 529.1,189.0 528.8,183.9 C528.5,178.8 526.0,173.4 523.3,168.0 C520.6,162.5 515.4,156.8 512.6,151.0 C509.8,145.3 507.5,136.4 506.5,133.5" fill="none" stroke="#4aa640" stroke-width=".7" opacity=".8"/><path d="M498.9,207.6 C499.6,205.9 502.7,200.9 503.2,197.4 C503.7,193.9 503.0,189.5 502.1,186.5 C501.1,183.6 498.1,181.0 497.3,179.9 L496.7,180.1 C496.8,181.3 496.9,184.7 496.9,187.5 C497.0,190.2 497.1,193.4 496.8,196.6 C496.5,199.8 495.4,204.8 495.1,206.4Z" fill="#6cc048"/><path d="M496.1,206.7 C496.5,205.1 498.2,200.1 498.6,196.8 C498.9,193.6 498.6,190.0 498.3,187.2 C498.1,184.4 497.1,181.2 496.9,180.0" fill="none" stroke="#3a963a" stroke-width=".7" opacity=".8"/><path d="M497.0,207.0 C497.5,205.3 499.6,200.3 500.0,197.0 C500.4,193.7 500.0,189.8 499.5,187.0 C499.0,184.2 497.4,181.2 497.0,180.0" fill="none" stroke="#3a963a" stroke-width=".7" opacity=".8"/><path d="M497.9,207.3 C498.5,205.6 501.0,200.6 501.4,197.2 C501.9,193.8 501.4,189.7 500.7,186.8 C499.9,183.9 497.7,181.1 497.1,180.0" fill="none" stroke="#3a963a" stroke-width=".7" opacity=".8"/><path d="M492.0,165.0 L492.0,157.0" stroke="#c8cc78" stroke-width="3" stroke-linecap="round"/><path d="M492.0,161.0 L488.9,158.4" stroke="#c8cc78" stroke-width="2.5" stroke-linecap="round"/><path d="M492.0,165.0 L497.4,160.5" stroke="#c8cc78" stroke-width="3" stroke-linecap="round"/><path d="M492.0,165.0 L486.6,160.5" stroke="#c8cc78" stroke-width="3" stroke-linecap="round"/><path d="M499.4,206 l8.4,-7.9" stroke="#8aa030" stroke-width="1"/><path d="M496.5,206 l-10.4,-9.3" stroke="#d8a030" stroke-width="1"/><path d="M488.1,206 l-0.1,-7.9" stroke="#b03a4a" stroke-width="1"/><path d="M490.6,206 l-8.2,-4.6" stroke="#d8a030" stroke-width="1"/><path d="M495.9,206 l-9.9,-5.9" stroke="#8aa030" stroke-width="1"/><path d="M493.9,206 l-1.8,-6.0" stroke="#8aa030" stroke-width="1"/><path d="M504.9,206 l-5.1,-10.0" stroke="#c44a3a" stroke-width="1"/><path d="M490.2,206 l9.4,-8.3" stroke="#c44a3a" stroke-width="1"/><path d="M494.2,206 l1.2,-10.3" stroke="#8aa030" stroke-width="1"/><path d="M496.5,206 l8.5,-7.5" stroke="#d8a030" stroke-width="1"/><path d="M500.1,206 l6.5,-3.8" stroke="#c44a3a" stroke-width="1"/><path d="M502.9,206 l7.8,-5.9" stroke="#d8a030" stroke-width="1"/><path d="M497.6,206 l2.7,-6.6" stroke="#b03a4a" stroke-width="1"/><path d="M494.9,206 l3.1,-9.1" stroke="#8aa030" stroke-width="1"/><path d="M489.7,206 l1.7,-6.0" stroke="#8aa030" stroke-width="1"/><path d="M498.8,206 l6.1,-2.3" stroke="#d8a030" stroke-width="1"/><ellipse cx="475" cy="210.7" rx="8.2" ry="3.3" fill="#e6e6f2"/><ellipse cx="487.3" cy="210.5" rx="4" ry="2.4" fill="#d8d8ea"/><ellipse cx="509" cy="211" rx="10" ry="4.4" fill="#ececf6"/><ellipse cx="523.6" cy="211.6" rx="5" ry="2.4" fill="#dcdcec"/><ellipse cx="532.9" cy="212.2" rx="3" ry="1.7" fill="#e6e6f2"/><ellipse cx="497" cy="211.5" rx="4.5" ry="2.2" fill="#cfcfe2"/></g><g clip-path="url(#panelClip)"><path d="M90.0,262.0 C89.0,268.3 87.0,287.3 84.0,300.0 C81.0,312.7 76.5,326.3 72.0,338.0 C67.5,349.7 63.2,360.5 57.0,370.0 C50.8,379.5 43.8,387.5 35.0,395.0 C26.2,402.5 9.2,411.7 4.0,415.0" fill="none" stroke="#4a8fc4" stroke-opacity=".24" stroke-width="8.5" stroke-linecap="round" stroke-dasharray="18.2 10"/><path d="M125.0,262.0 C123.8,267.5 120.8,284.5 118.0,295.0 C115.2,305.5 112.3,315.0 108.0,325.0 C103.7,335.0 99.2,345.0 92.0,355.0 C84.8,365.0 73.7,376.7 65.0,385.0 C56.3,393.3 50.2,397.8 40.0,405.0 C29.8,412.2 10.0,424.2 4.0,428.0" fill="none" stroke="#4a8fc4" stroke-opacity=".24" stroke-width="8.5" stroke-linecap="round" stroke-dasharray="18.2 10"/><path d="M172.0,262.0 C171.0,268.7 168.8,287.8 166.0,302.0 C163.2,316.2 159.3,333.2 155.0,347.0 C150.7,360.8 146.2,372.0 140.0,385.0 C133.8,398.0 126.3,414.2 118.0,425.0 C109.7,435.8 99.7,442.5 90.0,450.0 C80.3,457.5 71.7,464.7 60.0,470.0 C48.3,475.3 26.7,480.0 20.0,482.0" fill="none" stroke="#4a8fc4" stroke-opacity=".24" stroke-width="8.5" stroke-linecap="round" stroke-dasharray="18.2 10"/><path d="M200.0,262.0 C199.3,268.3 198.0,287.0 196.0,300.0 C194.0,313.0 191.3,328.0 188.0,340.0 C184.7,352.0 182.3,358.7 176.0,372.0 C169.7,385.3 159.3,406.2 150.0,420.0 C140.7,433.8 125.0,449.2 120.0,455.0" fill="none" stroke="#4a8fc4" stroke-opacity=".24" stroke-width="8.5" stroke-linecap="round" stroke-dasharray="18.2 10"/><path d="M74.0,262.0 C73.3,265.0 72.2,272.5 70.0,280.0 C67.8,287.5 64.7,298.3 61.0,307.0 C57.3,315.7 52.7,323.7 48.0,332.0 C43.3,340.3 38.3,350.0 33.0,357.0 C27.7,364.0 20.8,369.8 16.0,374.0 C11.2,378.2 6.0,380.7 4.0,382.0" fill="none" stroke="#239e34" stroke-width="4.6"/><path d="M74.0,262.0 C73.3,265.0 72.2,272.5 70.0,280.0 C67.8,287.5 64.7,298.3 61.0,307.0 C57.3,315.7 52.7,323.7 48.0,332.0 C43.3,340.3 38.3,350.0 33.0,357.0 C27.7,364.0 20.8,369.8 16.0,374.0 C11.2,378.2 6.0,380.7 4.0,382.0" fill="none" stroke="#1f9a30" stroke-width="9.4" stroke-linecap="round" stroke-dasharray="18.2 10" stroke-dashoffset="6"/><path d="M74.0,262.0 C73.3,265.0 72.2,272.5 70.0,280.0 C67.8,287.5 64.7,298.3 61.0,307.0 C57.3,315.7 52.7,323.7 48.0,332.0 C43.3,340.3 38.3,350.0 33.0,357.0 C27.7,364.0 20.8,369.8 16.0,374.0 C11.2,378.2 6.0,380.7 4.0,382.0" fill="none" stroke="#30bd40" stroke-width="7.4" stroke-linecap="round" stroke-dasharray="18.2 10" stroke-dashoffset="6"/><path d="M74.0,262.0 C73.3,265.0 72.2,272.5 70.0,280.0 C67.8,287.5 64.7,298.3 61.0,307.0 C57.3,315.7 52.7,323.7 48.0,332.0 C43.3,340.3 38.3,350.0 33.0,357.0 C27.7,364.0 20.8,369.8 16.0,374.0 C11.2,378.2 6.0,380.7 4.0,382.0" fill="none" stroke="#1d9428" stroke-opacity=".55" stroke-width="1.4" stroke-linecap="round" stroke-dasharray="0.1 3.525" stroke-dashoffset="6" transform="translate(1.2,.6)"/><path d="M74.0,262.0 C73.3,265.0 72.2,272.5 70.0,280.0 C67.8,287.5 64.7,298.3 61.0,307.0 C57.3,315.7 52.7,323.7 48.0,332.0 C43.3,340.3 38.3,350.0 33.0,357.0 C27.7,364.0 20.8,369.8 16.0,374.0 C11.2,378.2 6.0,380.7 4.0,382.0" fill="none" stroke="#1d9428" stroke-opacity=".5" stroke-width="1.2" stroke-linecap="round" stroke-dasharray="0.1 4.6" stroke-dashoffset="8" transform="translate(-1.4,-.5)"/><path d="M107.0,262.0 C106.3,265.0 105.0,273.7 103.0,280.0 C101.0,286.3 98.8,292.1 95.0,300.0 C91.2,307.9 85.4,319.0 80.0,327.5 C74.6,336.0 69.2,343.5 62.5,351.0 C55.8,358.5 47.6,366.2 40.0,372.5 C32.4,378.8 23.0,385.2 17.0,389.0 C11.0,392.8 6.2,394.0 4.0,395.0" fill="none" stroke="#239e34" stroke-width="4.6"/><path d="M107.0,262.0 C106.3,265.0 105.0,273.7 103.0,280.0 C101.0,286.3 98.8,292.1 95.0,300.0 C91.2,307.9 85.4,319.0 80.0,327.5 C74.6,336.0 69.2,343.5 62.5,351.0 C55.8,358.5 47.6,366.2 40.0,372.5 C32.4,378.8 23.0,385.2 17.0,389.0 C11.0,392.8 6.2,394.0 4.0,395.0" fill="none" stroke="#1f9a30" stroke-width="9.4" stroke-linecap="round" stroke-dasharray="18.2 10" stroke-dashoffset="14"/><path d="M107.0,262.0 C106.3,265.0 105.0,273.7 103.0,280.0 C101.0,286.3 98.8,292.1 95.0,300.0 C91.2,307.9 85.4,319.0 80.0,327.5 C74.6,336.0 69.2,343.5 62.5,351.0 C55.8,358.5 47.6,366.2 40.0,372.5 C32.4,378.8 23.0,385.2 17.0,389.0 C11.0,392.8 6.2,394.0 4.0,395.0" fill="none" stroke="#30bd40" stroke-width="7.4" stroke-linecap="round" stroke-dasharray="18.2 10" stroke-dashoffset="14"/><path d="M107.0,262.0 C106.3,265.0 105.0,273.7 103.0,280.0 C101.0,286.3 98.8,292.1 95.0,300.0 C91.2,307.9 85.4,319.0 80.0,327.5 C74.6,336.0 69.2,343.5 62.5,351.0 C55.8,358.5 47.6,366.2 40.0,372.5 C32.4,378.8 23.0,385.2 17.0,389.0 C11.0,392.8 6.2,394.0 4.0,395.0" fill="none" stroke="#1d9428" stroke-opacity=".55" stroke-width="1.4" stroke-linecap="round" stroke-dasharray="0.1 3.525" stroke-dashoffset="14" transform="translate(1.2,.6)"/><path d="M107.0,262.0 C106.3,265.0 105.0,273.7 103.0,280.0 C101.0,286.3 98.8,292.1 95.0,300.0 C91.2,307.9 85.4,319.0 80.0,327.5 C74.6,336.0 69.2,343.5 62.5,351.0 C55.8,358.5 47.6,366.2 40.0,372.5 C32.4,378.8 23.0,385.2 17.0,389.0 C11.0,392.8 6.2,394.0 4.0,395.0" fill="none" stroke="#1d9428" stroke-opacity=".5" stroke-width="1.2" stroke-linecap="round" stroke-dasharray="0.1 4.6" stroke-dashoffset="16" transform="translate(-1.4,-.5)"/><path d="M139.0,262.0 C138.3,265.0 137.2,273.5 135.0,280.0 C132.8,286.5 130.2,292.5 126.0,301.0 C121.8,309.5 115.3,321.6 110.0,331.0 C104.7,340.4 99.8,349.3 94.0,357.5 C88.2,365.7 81.3,372.5 75.0,380.0 C68.7,387.5 62.2,395.0 56.0,402.5 C49.8,410.0 43.5,418.2 37.5,425.0 C31.5,431.8 25.6,437.8 20.0,443.0 C14.4,448.2 6.7,453.8 4.0,456.0" fill="none" stroke="#239e34" stroke-width="4.6"/><path d="M139.0,262.0 C138.3,265.0 137.2,273.5 135.0,280.0 C132.8,286.5 130.2,292.5 126.0,301.0 C121.8,309.5 115.3,321.6 110.0,331.0 C104.7,340.4 99.8,349.3 94.0,357.5 C88.2,365.7 81.3,372.5 75.0,380.0 C68.7,387.5 62.2,395.0 56.0,402.5 C49.8,410.0 43.5,418.2 37.5,425.0 C31.5,431.8 25.6,437.8 20.0,443.0 C14.4,448.2 6.7,453.8 4.0,456.0" fill="none" stroke="#1f9a30" stroke-width="9.4" stroke-linecap="round" stroke-dasharray="18.2 10" stroke-dashoffset="2"/><path d="M139.0,262.0 C138.3,265.0 137.2,273.5 135.0,280.0 C132.8,286.5 130.2,292.5 126.0,301.0 C121.8,309.5 115.3,321.6 110.0,331.0 C104.7,340.4 99.8,349.3 94.0,357.5 C88.2,365.7 81.3,372.5 75.0,380.0 C68.7,387.5 62.2,395.0 56.0,402.5 C49.8,410.0 43.5,418.2 37.5,425.0 C31.5,431.8 25.6,437.8 20.0,443.0 C14.4,448.2 6.7,453.8 4.0,456.0" fill="none" stroke="#30bd40" stroke-width="7.4" stroke-linecap="round" stroke-dasharray="18.2 10" stroke-dashoffset="2"/><path d="M139.0,262.0 C138.3,265.0 137.2,273.5 135.0,280.0 C132.8,286.5 130.2,292.5 126.0,301.0 C121.8,309.5 115.3,321.6 110.0,331.0 C104.7,340.4 99.8,349.3 94.0,357.5 C88.2,365.7 81.3,372.5 75.0,380.0 C68.7,387.5 62.2,395.0 56.0,402.5 C49.8,410.0 43.5,418.2 37.5,425.0 C31.5,431.8 25.6,437.8 20.0,443.0 C14.4,448.2 6.7,453.8 4.0,456.0" fill="none" stroke="#1d9428" stroke-opacity=".55" stroke-width="1.4" stroke-linecap="round" stroke-dasharray="0.1 3.525" stroke-dashoffset="2" transform="translate(1.2,.6)"/><path d="M139.0,262.0 C138.3,265.0 137.2,273.5 135.0,280.0 C132.8,286.5 130.2,292.5 126.0,301.0 C121.8,309.5 115.3,321.6 110.0,331.0 C104.7,340.4 99.8,349.3 94.0,357.5 C88.2,365.7 81.3,372.5 75.0,380.0 C68.7,387.5 62.2,395.0 56.0,402.5 C49.8,410.0 43.5,418.2 37.5,425.0 C31.5,431.8 25.6,437.8 20.0,443.0 C14.4,448.2 6.7,453.8 4.0,456.0" fill="none" stroke="#1d9428" stroke-opacity=".5" stroke-width="1.2" stroke-linecap="round" stroke-dasharray="0.1 4.6" stroke-dashoffset="4" transform="translate(-1.4,-.5)"/><path d="M153.5,262.0 C152.9,265.8 151.6,277.8 150.0,285.0 C148.4,292.2 146.9,296.2 144.0,305.0 C141.1,313.8 136.1,327.5 132.5,337.5 C128.9,347.5 126.2,355.9 122.5,365.0 C118.8,374.1 115.0,382.8 110.0,392.0 C105.0,401.2 98.8,411.7 92.5,420.0 C86.2,428.3 80.0,435.7 72.5,442.0 C65.0,448.3 55.9,453.8 47.5,458.0 C39.1,462.2 29.2,464.8 22.0,467.0 C14.8,469.2 7.0,470.3 4.0,471.0" fill="none" stroke="#239e34" stroke-width="4.6"/><path d="M153.5,262.0 C152.9,265.8 151.6,277.8 150.0,285.0 C148.4,292.2 146.9,296.2 144.0,305.0 C141.1,313.8 136.1,327.5 132.5,337.5 C128.9,347.5 126.2,355.9 122.5,365.0 C118.8,374.1 115.0,382.8 110.0,392.0 C105.0,401.2 98.8,411.7 92.5,420.0 C86.2,428.3 80.0,435.7 72.5,442.0 C65.0,448.3 55.9,453.8 47.5,458.0 C39.1,462.2 29.2,464.8 22.0,467.0 C14.8,469.2 7.0,470.3 4.0,471.0" fill="none" stroke="#1f9a30" stroke-width="9.4" stroke-linecap="round" stroke-dasharray="18.2 10" stroke-dashoffset="10"/><path d="M153.5,262.0 C152.9,265.8 151.6,277.8 150.0,285.0 C148.4,292.2 146.9,296.2 144.0,305.0 C141.1,313.8 136.1,327.5 132.5,337.5 C128.9,347.5 126.2,355.9 122.5,365.0 C118.8,374.1 115.0,382.8 110.0,392.0 C105.0,401.2 98.8,411.7 92.5,420.0 C86.2,428.3 80.0,435.7 72.5,442.0 C65.0,448.3 55.9,453.8 47.5,458.0 C39.1,462.2 29.2,464.8 22.0,467.0 C14.8,469.2 7.0,470.3 4.0,471.0" fill="none" stroke="#30bd40" stroke-width="7.4" stroke-linecap="round" stroke-dasharray="18.2 10" stroke-dashoffset="10"/><path d="M153.5,262.0 C152.9,265.8 151.6,277.8 150.0,285.0 C148.4,292.2 146.9,296.2 144.0,305.0 C141.1,313.8 136.1,327.5 132.5,337.5 C128.9,347.5 126.2,355.9 122.5,365.0 C118.8,374.1 115.0,382.8 110.0,392.0 C105.0,401.2 98.8,411.7 92.5,420.0 C86.2,428.3 80.0,435.7 72.5,442.0 C65.0,448.3 55.9,453.8 47.5,458.0 C39.1,462.2 29.2,464.8 22.0,467.0 C14.8,469.2 7.0,470.3 4.0,471.0" fill="none" stroke="#1d9428" stroke-opacity=".55" stroke-width="1.4" stroke-linecap="round" stroke-dasharray="0.1 3.525" stroke-dashoffset="10" transform="translate(1.2,.6)"/><path d="M153.5,262.0 C152.9,265.8 151.6,277.8 150.0,285.0 C148.4,292.2 146.9,296.2 144.0,305.0 C141.1,313.8 136.1,327.5 132.5,337.5 C128.9,347.5 126.2,355.9 122.5,365.0 C118.8,374.1 115.0,382.8 110.0,392.0 C105.0,401.2 98.8,411.7 92.5,420.0 C86.2,428.3 80.0,435.7 72.5,442.0 C65.0,448.3 55.9,453.8 47.5,458.0 C39.1,462.2 29.2,464.8 22.0,467.0 C14.8,469.2 7.0,470.3 4.0,471.0" fill="none" stroke="#1d9428" stroke-opacity=".5" stroke-width="1.2" stroke-linecap="round" stroke-dasharray="0.1 4.6" stroke-dashoffset="12" transform="translate(-1.4,-.5)"/></g><circle cx="216.6" cy="322.7" r="41" fill="url(#wcG)"/><circle cx="166.6" cy="426.8" r="41" fill="url(#wcG)"/><circle cx="57.2" cy="511.5" r="41" fill="url(#wcG)"/><path d="M188.6,301.3 V339.1 M198.6,301.3 V339.1 M208.6,301.3 V339.1 M218.6,301.3 V339.1 M228.6,301.3 V339.1 M238.6,301.3 V339.1 M248.6,301.3 V339.1 M188.6,301.3 H248.6 M188.6,305.5 H248.6 M188.6,309.7 H248.6 M188.6,313.9 H248.6 M188.6,318.1 H248.6 M188.6,322.3 H248.6 M188.6,326.5 H248.6 M188.6,330.7 H248.6 M188.6,334.9 H248.6 M188.6,339.1 H248.6 " stroke="#a9adb6" stroke-width=".6" fill="none"/><circle cx="196.3" cy="315.7" r=".45" fill="#e58f98"/><circle cx="199.1" cy="310.5" r=".45" fill="#e58f98"/><circle cx="200.5" cy="333.7" r=".45" fill="#e58f98"/><circle cx="196.6" cy="324.3" r=".45" fill="#e58f98"/><circle cx="198.8" cy="328.7" r=".45" fill="#e58f98"/><circle cx="196.6" cy="316.9" r=".45" fill="#e58f98"/><circle cx="198.7" cy="311.7" r=".45" fill="#e58f98"/><circle cx="195.1" cy="318.1" r=".45" fill="#e58f98"/><circle cx="195.2" cy="321.4" r=".45" fill="#e58f98"/><circle cx="200.0" cy="331.1" r=".45" fill="#e58f98"/><circle cx="201.4" cy="333.9" r=".45" fill="#e58f98"/><circle cx="199.4" cy="310.9" r=".45" fill="#e58f98"/><circle cx="195.6" cy="317.6" r=".45" fill="#e58f98"/><circle cx="197.1" cy="324.6" r=".45" fill="#e58f98"/><circle cx="200.6" cy="333.0" r=".45" fill="#e58f98"/><circle cx="197.6" cy="326.4" r=".45" fill="#e58f98"/><circle cx="198.3" cy="313.3" r=".45" fill="#e58f98"/><circle cx="200.0" cy="309.5" r=".45" fill="#e58f98"/><circle cx="201.8" cy="305.1" r=".45" fill="#e58f98"/><circle cx="197.5" cy="314.4" r=".45" fill="#e58f98"/><circle cx="196.0" cy="324.0" r=".45" fill="#e58f98"/><circle cx="194.8" cy="321.9" r=".45" fill="#e58f98"/><circle cx="200.8" cy="332.2" r=".45" fill="#e58f98"/><circle cx="195.6" cy="321.3" r=".45" fill="#e58f98"/><circle cx="200.8" cy="306.8" r=".45" fill="#e58f98"/><circle cx="200.3" cy="331.7" r=".45" fill="#e58f98"/><circle cx="197.2" cy="325.6" r=".45" fill="#e58f98"/><circle cx="200.7" cy="335.0" r=".45" fill="#e58f98"/><circle cx="196.4" cy="317.5" r=".45" fill="#e58f98"/><circle cx="201.5" cy="334.6" r=".45" fill="#e58f98"/><circle cx="196.8" cy="316.8" r=".45" fill="#e58f98"/><circle cx="197.9" cy="325.8" r=".45" fill="#e58f98"/><circle cx="200.6" cy="333.6" r=".45" fill="#e58f98"/><circle cx="200.9" cy="333.2" r=".45" fill="#e58f98"/><circle cx="199.1" cy="310.7" r=".45" fill="#e58f98"/><circle cx="201.0" cy="334.2" r=".45" fill="#e58f98"/><circle cx="200.4" cy="308.9" r=".45" fill="#e58f98"/><circle cx="197.9" cy="327.1" r=".45" fill="#e58f98"/><circle cx="199.0" cy="311.3" r=".45" fill="#e58f98"/><circle cx="200.7" cy="334.8" r=".45" fill="#e58f98"/><circle cx="198.3" cy="310.4" r=".45" fill="#e58f98"/><circle cx="198.8" cy="329.8" r=".45" fill="#e58f98"/><circle cx="201.3" cy="333.8" r=".45" fill="#e58f98"/><circle cx="195.9" cy="318.7" r=".45" fill="#e58f98"/><circle cx="194.7" cy="321.3" r=".45" fill="#e58f98"/><circle cx="197.4" cy="327.4" r=".45" fill="#e58f98"/><circle cx="196.8" cy="323.6" r=".45" fill="#e58f98"/><circle cx="196.1" cy="324.7" r=".45" fill="#e58f98"/><circle cx="200.0" cy="307.6" r=".45" fill="#e58f98"/><circle cx="196.0" cy="324.1" r=".45" fill="#e58f98"/><circle cx="196.5" cy="323.6" r=".45" fill="#e58f98"/><circle cx="196.3" cy="322.4" r=".45" fill="#e58f98"/><circle cx="199.3" cy="309.6" r=".45" fill="#e58f98"/><circle cx="199.9" cy="307.0" r=".45" fill="#e58f98"/><circle cx="200.4" cy="308.6" r=".45" fill="#e58f98"/><circle cx="198.4" cy="312.7" r=".45" fill="#e58f98"/><circle cx="194.9" cy="318.5" r=".45" fill="#e58f98"/><circle cx="201.0" cy="307.3" r=".45" fill="#e58f98"/><circle cx="197.7" cy="314.2" r=".45" fill="#e58f98"/><circle cx="197.1" cy="314.2" r=".45" fill="#e58f98"/><circle cx="198.3" cy="328.3" r=".45" fill="#e58f98"/><circle cx="199.0" cy="329.9" r=".45" fill="#e58f98"/><circle cx="197.1" cy="326.7" r=".45" fill="#e58f98"/><circle cx="195.1" cy="321.1" r=".45" fill="#e58f98"/><circle cx="200.7" cy="305.2" r=".45" fill="#e58f98"/><circle cx="198.0" cy="327.4" r=".45" fill="#e58f98"/><circle cx="201.4" cy="306.5" r=".45" fill="#e58f98"/><circle cx="201.8" cy="305.4" r=".45" fill="#e58f98"/><circle cx="195.9" cy="318.4" r=".45" fill="#e58f98"/><circle cx="200.1" cy="306.4" r=".45" fill="#e58f98"/><circle cx="199.8" cy="308.6" r=".45" fill="#e58f98"/><circle cx="196.6" cy="315.7" r=".45" fill="#e58f98"/><circle cx="197.4" cy="313.2" r=".45" fill="#e58f98"/><circle cx="197.1" cy="324.5" r=".45" fill="#e58f98"/><circle cx="194.9" cy="318.1" r=".45" fill="#e58f98"/><circle cx="197.9" cy="311.5" r=".45" fill="#e58f98"/><circle cx="200.7" cy="307.9" r=".45" fill="#e58f98"/><circle cx="194.3" cy="321.1" r=".45" fill="#e58f98"/><circle cx="197.0" cy="324.8" r=".45" fill="#e58f98"/><circle cx="198.3" cy="311.7" r=".45" fill="#e58f98"/><circle cx="219.7" cy="320.7" r=".4" fill="#777" opacity=".6"/><circle cx="201.6" cy="319.9" r=".4" fill="#777" opacity=".6"/><circle cx="201.5" cy="338.3" r=".4" fill="#777" opacity=".6"/><circle cx="221.9" cy="321.8" r=".4" fill="#777" opacity=".6"/><circle cx="200.4" cy="313.1" r=".4" fill="#777" opacity=".6"/><circle cx="206.8" cy="319.8" r=".4" fill="#777" opacity=".6"/><circle cx="207.8" cy="315.4" r=".4" fill="#777" opacity=".6"/><circle cx="208.1" cy="314.0" r=".4" fill="#777" opacity=".6"/><circle cx="203.4" cy="318.2" r=".4" fill="#777" opacity=".6"/><circle cx="213.6" cy="321.7" r=".4" fill="#777" opacity=".6"/><circle cx="218.0" cy="319.1" r=".4" fill="#777" opacity=".6"/><circle cx="203.0" cy="321.9" r=".4" fill="#777" opacity=".6"/><circle cx="208.5" cy="312.3" r=".4" fill="#777" opacity=".6"/><circle cx="208.6" cy="314.1" r=".4" fill="#777" opacity=".6"/><circle cx="220.4" cy="318.3" r=".4" fill="#777" opacity=".6"/><circle cx="208.4" cy="315.8" r=".4" fill="#777" opacity=".6"/><circle cx="211.9" cy="318.5" r=".4" fill="#777" opacity=".6"/><circle cx="217.4" cy="316.9" r=".4" fill="#777" opacity=".6"/><circle cx="210.9" cy="320.1" r=".4" fill="#777" opacity=".6"/><circle cx="217.5" cy="323.6" r=".4" fill="#777" opacity=".6"/><circle cx="200.0" cy="312.5" r=".4" fill="#777" opacity=".6"/><circle cx="222.6" cy="320.6" r=".4" fill="#777" opacity=".6"/><circle cx="224.2" cy="318.3" r=".4" fill="#777" opacity=".6"/><circle cx="220.1" cy="323.3" r=".4" fill="#777" opacity=".6"/><circle cx="205.3" cy="316.7" r=".4" fill="#777" opacity=".6"/><circle cx="220.8" cy="320.1" r=".4" fill="#777" opacity=".6"/><circle cx="216.5" cy="324.2" r=".4" fill="#777" opacity=".6"/><circle cx="216.7" cy="316.2" r=".4" fill="#777" opacity=".6"/><circle cx="218.5" cy="318.8" r=".4" fill="#777" opacity=".6"/><circle cx="214.5" cy="319.2" r=".4" fill="#777" opacity=".6"/><circle cx="198.1" cy="328.9" r=".4" fill="#777" opacity=".6"/><circle cx="199.2" cy="330.8" r=".4" fill="#777" opacity=".6"/><circle cx="200.6" cy="332.8" r=".4" fill="#777" opacity=".6"/><circle cx="203.0" cy="328.4" r=".4" fill="#777" opacity=".6"/><circle cx="198.7" cy="322.2" r=".4" fill="#777" opacity=".6"/><circle cx="221.6" cy="319.1" r=".4" fill="#777" opacity=".6"/><circle cx="216.9" cy="323.9" r=".4" fill="#777" opacity=".6"/><circle cx="214.2" cy="311.7" r=".4" fill="#777" opacity=".6"/><circle cx="220.4" cy="323.5" r=".4" fill="#777" opacity=".6"/><circle cx="212.3" cy="321.6" r=".4" fill="#777" opacity=".6"/><circle cx="218.0" cy="323.6" r=".4" fill="#777" opacity=".6"/><circle cx="224.2" cy="321.0" r=".4" fill="#777" opacity=".6"/><circle cx="199.7" cy="315.3" r=".4" fill="#777" opacity=".6"/><circle cx="221.2" cy="322.1" r=".4" fill="#777" opacity=".6"/><circle cx="204.8" cy="322.0" r=".4" fill="#777" opacity=".6"/><circle cx="215.2" cy="322.4" r=".4" fill="#777" opacity=".6"/><circle cx="219.1" cy="318.0" r=".4" fill="#777" opacity=".6"/><circle cx="209.1" cy="323.0" r=".4" fill="#777" opacity=".6"/><circle cx="207.8" cy="317.8" r=".4" fill="#777" opacity=".6"/><circle cx="212.0" cy="320.8" r=".4" fill="#777" opacity=".6"/><circle cx="225.2" cy="318.6" r=".4" fill="#777" opacity=".6"/><circle cx="202.5" cy="326.1" r=".4" fill="#777" opacity=".6"/><circle cx="217.3" cy="320.1" r=".4" fill="#777" opacity=".6"/><circle cx="212.5" cy="313.4" r=".4" fill="#777" opacity=".6"/><circle cx="211.5" cy="313.7" r=".4" fill="#777" opacity=".6"/><circle cx="202.2" cy="307.8" r=".4" fill="#777" opacity=".6"/><circle cx="200.7" cy="319.7" r=".4" fill="#777" opacity=".6"/><circle cx="212.5" cy="310.2" r=".4" fill="#777" opacity=".6"/><circle cx="210.4" cy="319.3" r=".4" fill="#777" opacity=".6"/><circle cx="205.5" cy="315.9" r=".4" fill="#777" opacity=".6"/><circle cx="203.6" cy="314.8" r=".4" fill="#777" opacity=".6"/><circle cx="204.5" cy="317.0" r=".4" fill="#777" opacity=".6"/><circle cx="217.4" cy="322.3" r=".4" fill="#777" opacity=".6"/><circle cx="217.7" cy="319.2" r=".4" fill="#777" opacity=".6"/><circle cx="209.6" cy="324.1" r=".4" fill="#777" opacity=".6"/><circle cx="205.5" cy="313.2" r=".4" fill="#777" opacity=".6"/><circle cx="204.1" cy="327.5" r=".4" fill="#777" opacity=".6"/><circle cx="208.7" cy="320.8" r=".4" fill="#777" opacity=".6"/><circle cx="202.8" cy="315.9" r=".4" fill="#777" opacity=".6"/><circle cx="219.7" cy="321.5" r=".4" fill="#777" opacity=".6"/><circle cx="202.0" cy="328.2" r=".4" fill="#777" opacity=".6"/><circle cx="214.8" cy="319.7" r=".4" fill="#777" opacity=".6"/><circle cx="211.1" cy="324.4" r=".4" fill="#777" opacity=".6"/><circle cx="213.6" cy="313.4" r=".4" fill="#777" opacity=".6"/><circle cx="211.5" cy="318.2" r=".4" fill="#777" opacity=".6"/><circle cx="209.2" cy="309.7" r=".4" fill="#777" opacity=".6"/><circle cx="218.5" cy="322.8" r=".4" fill="#777" opacity=".6"/><circle cx="204.4" cy="318.1" r=".4" fill="#777" opacity=".6"/><circle cx="204.6" cy="317.9" r=".4" fill="#777" opacity=".6"/><circle cx="224.8" cy="318.6" r=".4" fill="#777" opacity=".6"/><circle cx="221.9" cy="320.0" r=".4" fill="#777" opacity=".6"/><circle cx="205.2" cy="324.0" r=".4" fill="#777" opacity=".6"/><circle cx="203.2" cy="316.0" r=".4" fill="#777" opacity=".6"/><circle cx="223.2" cy="317.3" r=".4" fill="#777" opacity=".6"/><circle cx="205.1" cy="323.6" r=".4" fill="#777" opacity=".6"/><circle cx="209.9" cy="316.6" r=".4" fill="#777" opacity=".6"/><circle cx="218.4" cy="320.9" r=".4" fill="#777" opacity=".6"/><circle cx="221.4" cy="320.3" r=".4" fill="#777" opacity=".6"/><circle cx="206.2" cy="314.9" r=".4" fill="#777" opacity=".6"/><circle cx="216.9" cy="323.1" r=".4" fill="#777" opacity=".6"/><circle cx="198.2" cy="315.3" r=".4" fill="#777" opacity=".6"/><circle cx="211.6" cy="324.2" r=".4" fill="#777" opacity=".6"/><circle cx="203.9" cy="305.3" r=".4" fill="#777" opacity=".6"/><circle cx="208.9" cy="313.1" r=".4" fill="#777" opacity=".6"/><circle cx="213.2" cy="322.3" r=".4" fill="#777" opacity=".6"/><circle cx="216.6" cy="321.6" r=".4" fill="#777" opacity=".6"/><circle cx="201.2" cy="332.4" r=".4" fill="#777" opacity=".6"/><circle cx="200.7" cy="309.0" r=".4" fill="#777" opacity=".6"/><circle cx="224.4" cy="318.7" r=".4" fill="#777" opacity=".6"/><circle cx="219.2" cy="322.9" r=".4" fill="#777" opacity=".6"/><circle cx="206.3" cy="315.9" r=".4" fill="#777" opacity=".6"/><circle cx="220.6" cy="317.2" r=".4" fill="#777" opacity=".6"/><circle cx="205.4" cy="320.3" r=".4" fill="#777" opacity=".6"/><circle cx="216.8" cy="311.9" r=".4" fill="#777" opacity=".6"/><circle cx="213.0" cy="323.6" r=".4" fill="#777" opacity=".6"/><circle cx="207.9" cy="324.2" r=".4" fill="#777" opacity=".6"/><circle cx="218.1" cy="318.3" r=".4" fill="#777" opacity=".6"/><circle cx="203.1" cy="311.7" r=".4" fill="#777" opacity=".6"/><circle cx="216.1" cy="318.5" r=".4" fill="#777" opacity=".6"/><circle cx="222.9" cy="319.2" r=".4" fill="#777" opacity=".6"/><circle cx="216.4" cy="325.3" r=".4" fill="#777" opacity=".6"/><circle cx="202.0" cy="331.8" r=".4" fill="#777" opacity=".6"/><circle cx="207.3" cy="318.5" r=".4" fill="#777" opacity=".6"/><circle cx="213.5" cy="314.5" r=".4" fill="#777" opacity=".6"/><circle cx="216.1" cy="317.1" r=".4" fill="#777" opacity=".6"/><circle cx="202.9" cy="321.5" r=".4" fill="#777" opacity=".6"/><circle cx="199.9" cy="317.1" r=".4" fill="#777" opacity=".6"/><circle cx="213.2" cy="313.1" r=".4" fill="#777" opacity=".6"/><circle cx="218.7" cy="318.6" r=".4" fill="#777" opacity=".6"/><circle cx="208.7" cy="323.2" r=".4" fill="#777" opacity=".6"/><ellipse cx="206.500" cy="320" rx="6" ry="7" fill="#4a4a52" opacity=".38" filter="url(#blur1)"/><g filter="url(#blur05)"><path d="M203.3,320 Q203.8,315 207.500,315.300 Q213,317.300 219,318.700 L232.300,319.500 L232.300,320.600 L219,321.500 Q213,323 207.500,324.800 Q203.800,325 203.300,320Z" fill="#141418"/></g><ellipse cx="166.4" cy="461.6" rx="11" ry="1" fill="#b9bcc8"/><path d="M160.400,400.500 H174 V433 Q172.500,447 166.800,459.800 Q161.500,447 160.400,433Z" fill="#a9d6f2"/><path d="M162,403.600 H172.400 V433 Q171.200,445 166.900,456 Q162.900,445 162,433Z" fill="#f2b834"/><path d="M167.500,403.600 H172.400 V433 Q171.200,445 166.900,456 Q167.500,440 167.500,403.600Z" fill="#e9a426" opacity=".7"/><rect x="163.200" y="405" width="1.400" height="21" rx=".7" fill="#fbe08a"/><rect x="159.600" y="399.400" width="15.200" height="2.400" rx=".6" fill="#cfe6f6"/><rect x="157.900" y="391" width="17.800" height="8.700" rx="1" fill="#d9362e"/><rect x="160.3" y="391.500" width="1" height="7.700" fill="#a8201c"/><rect x="163.4" y="391.500" width="1" height="7.700" fill="#a8201c"/><rect x="166.5" y="391.500" width="1" height="7.700" fill="#a8201c"/><rect x="169.6" y="391.500" width="1" height="7.700" fill="#a8201c"/><rect x="172.7" y="391.500" width="1" height="7.700" fill="#a8201c"/><ellipse cx="60.200" cy="541.200" rx="13.500" ry="1.100" fill="#b4b8c8"/><path d="M57.500,524.500 Q54,530 49.300,533.500" stroke="#6f9a48" stroke-width="1" fill="none"/><path d="M62.500,526 Q66,530 71,532.800" stroke="#6f9a48" stroke-width="1" fill="none"/><path d="M38.500,480.600 C46,481 58,488 60.500,499 C62,510 58,519 53.400,523.300 C44,521 36.500,510 35,499 C34.500,491 36,484 38.500,480.600Z" fill="#70a350"/><path d="M60.500,499 C62,510 58,519 53.400,523.300 C51,521 50.500,516 52.500,509 C54,504 57,501 60.500,499Z" fill="#5a8c42"/><path d="M76.500,490 C80.500,497 81,507 76,516 C72,523 66,526.500 62.500,526.700 C56,522 53,514 55,506 C58,496 68,490.500 76.500,490Z" fill="#87b664"/><g stroke="#5d8f45" stroke-width=".5" fill="none" opacity=".6"><path d="M39,481.500 Q48,500 53.500,523"/><path d="M76,491 Q66,508 62.500,526"/></g><rect x="368" y="273.300" width="312" height="33.500" rx="4" fill="#8d97d8" opacity=".2"/><rect x="368" y="423" width="312" height="25" rx="4" fill="#8d97d8" opacity=".2"/><circle cx="371.6" cy="290.2" r="16.200" fill="#10163a" opacity=".55"/><circle cx="371.6" cy="290.2" r="14.700" fill="#3eb54b" stroke="#1f7a34" stroke-width="1"/><path d="M362.3,290.8 L364.20000000000005,288.8 L368.3,293.4 L379.3,280.59999999999997 L380.90000000000003,281.9 L368.6,298.5Z" fill="#ffffff"/><circle cx="371.6" cy="435.5" r="16.200" fill="#10163a" opacity=".55"/><circle cx="371.6" cy="435.5" r="14.700" fill="#3eb54b" stroke="#1f7a34" stroke-width="1"/><path d="M362.3,436.1 L364.20000000000005,434.1 L368.3,438.7 L379.3,425.9 L380.90000000000003,427.2 L368.6,443.8Z" fill="#ffffff"/><circle cx="527.2" cy="350.7" r="2.700" fill="#ffffff"/><circle cx="527.2" cy="374.4" r="2.700" fill="#ffffff"/><circle cx="527.2" cy="461.8" r="2.700" fill="#ffffff"/><circle cx="527.2" cy="501.5" r="2.700" fill="#ffffff"/><path d="M452.0,345.6 L463.5,365.9 L467.2,363.8 L466.2,377.1 L454.3,371.0 L458.0,368.9 L446.6,348.6Z" fill="#68bb30" stroke="#68bb30" stroke-width="1.2" stroke-linejoin="round"/><path d="M471.4,380.1 L482.7,400.1 L477.3,403.1 L466.0,383.1Z" fill="#559f26" stroke="#559f26" stroke-width="1" stroke-linejoin="round"/><path d="M478.8,404.7 L456.7,404.7 L456.7,409.0 L446.1,401.6 L456.7,394.2 L456.7,398.5 L478.8,398.5Z" fill="#68bb30" stroke="#68bb30" stroke-width="1.2" stroke-linejoin="round"/><path d="M441.3,404.7 L419.5,404.7 L419.5,398.5 L441.3,398.5Z" fill="#559f26" stroke="#559f26" stroke-width="1" stroke-linejoin="round"/><path d="M417.3,399.0 L428.0,378.8 L424.2,376.8 L435.9,370.5 L437.3,383.6 L433.5,381.6 L422.8,401.9Z" fill="#68bb30" stroke="#68bb30" stroke-width="1.2" stroke-linejoin="round"/><path d="M435.4,364.6 L446.0,344.6 L451.4,347.4 L440.9,367.5Z" fill="#559f26" stroke="#559f26" stroke-width="1" stroke-linejoin="round"/><circle cx="480" cy="401.6" r="3.2" fill="#559f26"/><circle cx="419.5" cy="401.6" r="3.2" fill="#559f26"/><circle cx="448.4" cy="335.2" r="22.400" fill="#ffffff"/><circle cx="399.6" cy="394.2" r="22.400" fill="#ffffff"/><circle cx="496.6" cy="394" r="22.400" fill="#ffffff"/><g transform="rotate(6 446 326.400)"><rect x="432.400" y="323.200" width="27.400" height="6.600" rx="3.300" fill="#2fb935" stroke="#1f962a" stroke-width=".8"/></g><g transform="rotate(-17.500 448 339.600)"><rect x="430.300" y="335.200" width="35.600" height="9" rx="4.500" fill="#2fb935" stroke="#1f962a" stroke-width=".8"/></g><circle cx="440.4" cy="339.9" r=".5" fill="#178a22"/><circle cx="444.7" cy="338.8" r=".5" fill="#178a22"/><circle cx="436.3" cy="342.8" r=".5" fill="#178a22"/><circle cx="459.6" cy="337.5" r=".5" fill="#178a22"/><circle cx="454.7" cy="336.0" r=".5" fill="#178a22"/><circle cx="448.6" cy="338.2" r=".5" fill="#178a22"/><circle cx="438.7" cy="340.5" r=".5" fill="#178a22"/><circle cx="441.0" cy="344.0" r=".5" fill="#178a22"/><circle cx="457.2" cy="338.3" r=".5" fill="#178a22"/><circle cx="455.6" cy="335.6" r=".5" fill="#178a22"/><circle cx="443.1" cy="341.8" r=".5" fill="#178a22"/><circle cx="454.7" cy="339.3" r=".5" fill="#178a22"/><circle cx="457.5" cy="334.4" r=".5" fill="#178a22"/><circle cx="451.1" cy="339.5" r=".5" fill="#178a22"/><circle cx="446.2" cy="325.4" r=".45" fill="#178a22"/><circle cx="445.6" cy="325.0" r=".45" fill="#178a22"/><circle cx="455.4" cy="328.6" r=".45" fill="#178a22"/><circle cx="447.1" cy="325.9" r=".45" fill="#178a22"/><circle cx="454.9" cy="327.6" r=".45" fill="#178a22"/><circle cx="454.2" cy="328.4" r=".45" fill="#178a22"/><circle cx="446.2" cy="326.1" r=".45" fill="#178a22"/><circle cx="448.2" cy="326.4" r=".45" fill="#178a22"/><circle cx="438.7" cy="325.0" r=".45" fill="#178a22"/><path d="M382.6,398.2 L388.5,395.1 L394.3,398.2 L394.3,404.7 L388.5,408.1 L382.6,404.7 L382.6,398.2 M394.3,398.2 L400.2,396.2 L404.5,401.7 L400.4,406.3 L394.3,404.7 M400.2,396.2 L402.7,390.1 L409.1,388.4 L411.0,383.1 M409.1,388.4 L412.1,392.1 M383.8,398.9 L383.8,404.0 M388.7,396.4 L393.2,398.9 M388.7,406.8 L393.2,404.1 M399.6,397.5 L403.1,401.8 M410.2,388.8 L412.1,383.7 " stroke="#8a8d98" stroke-width=".9" fill="none" stroke-linejoin="round"/><path d="M397.9,404.8 L400.4,406.3 L402.8,403.5" stroke="#3fd4e0" stroke-width="1.3" fill="none"/><text x="400.4" y="411.6" font-size="3.6" font-family="Liberation Sans, sans-serif" fill="#3f8fd8" text-anchor="middle" font-weight="bold">NH</text><circle cx="411.0" cy="383.1" r="1" fill="#e0606a"/><text x="411.3" y="381.3" font-size="3.4" font-family="Liberation Sans, sans-serif" fill="#e05a5a" text-anchor="middle">O</text><circle cx="412.1" cy="392.1" r="1" fill="#e0606a"/><text x="412.5" y="396.5" font-size="3.4" font-family="Liberation Sans, sans-serif" fill="#8a6a6a" text-anchor="middle">OH</text><path d="M490.6,380.5 H496.6" stroke="#f2a23a" stroke-width="1.500"/><path d="M496.6,380.5 H502.6" stroke="#e8463a" stroke-width="1.500"/><path d="M494.1,382.5 H496.6" stroke="#d63aa0" stroke-width="1.500"/><path d="M496.6,382.5 H499.1" stroke="#7a3ad0" stroke-width="1.500"/><path d="M501.9,386.6 H496.6" stroke="#f5d23a" stroke-width="1.500"/><path d="M496.6,386.6 H491.3" stroke="#3ac0e8" stroke-width="1.500"/><path d="M504.7,388.6 H496.6" stroke="#e8463a" stroke-width="1.500"/><path d="M496.6,388.6 H488.5" stroke="#f2a23a" stroke-width="1.500"/><path d="M506.1,390.7 H496.6" stroke="#7a3ad0" stroke-width="1.500"/><path d="M496.6,390.7 H487.1" stroke="#f5d23a" stroke-width="1.500"/><path d="M505.9,392.7 H496.6" stroke="#3ac0e8" stroke-width="1.500"/><path d="M496.6,392.7 H487.3" stroke="#d63aa0" stroke-width="1.500"/><path d="M504.0,394.7 H496.6" stroke="#f2a23a" stroke-width="1.500"/><path d="M496.6,394.7 H489.2" stroke="#e8463a" stroke-width="1.500"/><path d="M500.9,396.7 H496.6" stroke="#f5d23a" stroke-width="1.500"/><path d="M496.6,396.7 H492.3" stroke="#f5d23a" stroke-width="1.500"/><path d="M493.1,400.8 H496.6" stroke="#d63aa0" stroke-width="1.500"/><path d="M496.6,400.8 H500.1" stroke="#f2a23a" stroke-width="1.500"/><path d="M489.8,402.8 H496.6" stroke="#e8463a" stroke-width="1.500"/><path d="M496.6,402.8 H503.4" stroke="#f2a23a" stroke-width="1.500"/><path d="M487.6,404.8 H496.6" stroke="#f5d23a" stroke-width="1.500"/><path d="M496.6,404.8 H505.6" stroke="#d63aa0" stroke-width="1.500"/><path d="M487.0,406.9 H496.6" stroke="#f2a23a" stroke-width="1.500"/><path d="M496.6,406.9 H506.2" stroke="#f5d23a" stroke-width="1.500"/><path d="M488.6,379.0 L489.2,379.5 L489.8,380.0 L490.6,380.5 L491.4,381.0 L492.3,381.5 L493.2,382.0 L494.1,382.5 L495.1,383.1 L496.1,383.6 L497.1,384.1 L498.1,384.6 L499.1,385.1 L500.1,385.6 L501.0,386.1 L501.9,386.6 L502.7,387.1 L503.4,387.6 L504.1,388.1 L504.7,388.6 L505.2,389.1 L505.6,389.6 L505.9,390.1 L506.1,390.7 L506.2,391.2 L506.2,391.7 L506.1,392.2 L505.9,392.7 L505.6,393.2 L505.1,393.7 L504.6,394.2 L504.0,394.7 L503.4,395.2 L502.6,395.7 L501.8,396.2 L500.9,396.7 L500.0,397.2 L499.1,397.7 L498.1,398.3 L497.1,398.8 L496.1,399.3 L495.1,399.8 L494.1,400.3 L493.1,400.8 L492.2,401.3 L491.3,401.8 L490.5,402.3 L489.8,402.8 L489.1,403.3 L488.5,403.8 L488.0,404.3 L487.6,404.8 L487.3,405.3 L487.1,405.9 L487.0,406.4 L487.0,406.9 L487.1,407.4 L487.3,407.9 L487.6,408.4 L488.1,408.9 L488.6,409.4" stroke="#2b2a8c" stroke-width="2.600" fill="none" stroke-linecap="round"/><path d="M504.6,379.0 L504.0,379.5 L503.4,380.0 L502.6,380.5 L501.8,381.0 L500.9,381.5 L500.0,382.0 L499.1,382.5 L498.1,383.1 L497.1,383.6 L496.1,384.1 L495.1,384.6 L494.1,385.1 L493.1,385.6 L492.2,386.1 L491.3,386.6 L490.5,387.1 L489.8,387.6 L489.1,388.1 L488.5,388.6 L488.0,389.1 L487.6,389.6 L487.3,390.1 L487.1,390.7 L487.0,391.2 L487.0,391.7 L487.1,392.2 L487.3,392.7 L487.6,393.2 L488.1,393.7 L488.6,394.2 L489.2,394.7 L489.8,395.2 L490.6,395.7 L491.4,396.2 L492.3,396.7 L493.2,397.2 L494.1,397.7 L495.1,398.3 L496.1,398.8 L497.1,399.3 L498.1,399.8 L499.1,400.3 L500.1,400.8 L501.0,401.3 L501.9,401.8 L502.7,402.3 L503.4,402.8 L504.1,403.3 L504.7,403.8 L505.2,404.3 L505.6,404.8 L505.9,405.3 L506.1,405.9 L506.2,406.4 L506.2,406.9 L506.1,407.4 L505.9,407.9 L505.6,408.4 L505.1,408.9 L504.6,409.4" stroke="#3a9ede" stroke-width="2.600" fill="none" stroke-linecap="round"/><path d="M504.6,394.2 L504.0,394.7 L503.4,395.2 L502.6,395.7 L501.8,396.2 L500.9,396.7 L500.0,397.2 L499.1,397.7 L498.1,398.3 L497.1,398.8 L496.1,399.3 L495.1,399.8 L494.1,400.3 L493.1,400.8 L492.2,401.3 L491.3,401.8 L490.5,402.3 L489.8,402.8 L489.1,403.3 L488.5,403.8" stroke="#2b2a8c" stroke-width="2.600" fill="none"/><path d="M442.7,463.8 L443.7,458.0 L452.3,458.0 L453.3,463.8 L464.9,466.9 L468.7,462.4 L476.0,466.6 L474.0,472.2 L482.5,480.7 L488.1,478.7 L492.3,486.0 L487.8,489.8 L490.9,501.4 L496.7,502.4 L496.7,511.0 L490.9,512.0 L487.8,523.6 L492.3,527.4 L488.1,534.7 L482.5,532.7 L474.0,541.2 L476.0,546.8 L468.7,551.0 L464.9,546.5 L453.3,549.6 L452.3,555.4 L443.7,555.4 L442.7,549.6 L431.1,546.5 L427.3,551.0 L420.0,546.8 L422.0,541.2 L413.5,532.7 L407.9,534.7 L403.7,527.4 L408.2,523.6 L405.1,512.0 L399.3,511.0 L399.3,502.4 L405.1,501.4 L408.2,489.8 L403.7,486.0 L407.9,478.7 L413.5,480.7 L422.0,472.2 L420.0,466.6 L427.3,462.4 L431.1,466.9Z" fill="#27e2ee" stroke="#27e2ee" stroke-width="2" stroke-linejoin="round"/><circle cx="448" cy="506.7" r="43.9" fill="#27e2ee"/><circle cx="448" cy="506.7" r="38.4" fill="none" stroke="#55eff7" stroke-width="1.2"/><circle cx="448" cy="506.7" r="37.5" fill="#17153f"/><path d="M448.8,510.7 C449.2,510.4 450.4,508.9 451.3,508.8 C452.2,508.8 453.2,510.3 454.1,510.4 C455.1,510.4 456.0,508.9 457.0,508.8 C457.9,508.8 458.8,509.9 459.8,510.3 C460.8,510.8 461.9,511.0 462.7,511.6 C463.6,512.2 464.1,513.6 465.0,513.8 C465.9,514.1 467.6,513.2 468.2,513.1" fill="none" stroke="#e8761e" stroke-width=".8"/><path d="M438.6,481.6 C438.4,481.9 437.9,482.3 437.5,483.0 C437.1,483.8 436.7,485.0 436.4,486.0 C436.1,487.1 436.4,488.4 435.8,489.2 C435.3,490.0 433.6,490.7 433.2,491.0" fill="none" stroke="#f08a28" stroke-width=".8"/><path d="M460.4,527.6 C460.8,527.3 462.5,526.6 463.0,525.8 C463.5,524.9 463.9,523.3 463.5,522.6 C463.1,522.0 461.4,522.1 460.4,521.9 C459.3,521.7 457.7,521.6 457.2,521.6" fill="none" stroke="#e8761e" stroke-width=".8"/><path d="M458.2,488.1 C458.2,488.6 458.7,490.3 458.5,491.3 C458.4,492.3 457.6,493.2 457.2,494.2 C456.9,495.2 456.3,496.3 456.3,497.3 C456.4,498.3 457.9,499.5 457.7,500.2 C457.4,500.9 455.4,501.8 454.7,501.5 C454.1,501.2 453.7,499.0 453.5,498.5" fill="none" stroke="#e8761e" stroke-width=".8"/><path d="M466.1,495.5 C466.7,495.5 468.3,495.3 469.3,495.3 C470.4,495.4 471.7,496.2 472.5,495.8 C473.3,495.4 474.0,493.8 473.9,492.9 C473.8,492.1 472.5,491.1 471.6,490.7 C470.7,490.3 469.1,489.9 468.4,490.4 C467.7,490.8 467.7,492.9 467.5,493.4" fill="none" stroke="#e8761e" stroke-width=".8"/><path d="M445.0,480.5 C444.5,480.4 443.0,479.6 442.0,479.6 C440.9,479.6 439.3,479.9 438.9,480.6 C438.6,481.3 439.4,482.7 439.8,483.7 C440.3,484.6 441.7,485.5 441.6,486.3 C441.5,487.2 439.5,487.8 439.4,488.6 C439.2,489.5 440.4,491.1 440.6,491.6" fill="none" stroke="#e8761e" stroke-width=".8"/><path d="M418.7,504.8 C418.9,504.6 419.2,504.0 419.6,503.2 C420.0,502.5 420.4,500.7 421.2,500.5 C421.9,500.2 423.4,501.2 424.0,502.0 C424.6,502.8 424.3,504.1 424.6,505.1 C425.0,506.1 425.4,507.1 426.1,508.0 C426.7,508.8 427.6,509.5 428.5,510.1 C429.4,510.7 431.1,510.6 431.4,511.3 C431.7,512.0 430.4,513.8 430.2,514.3" fill="none" stroke="#e8761e" stroke-width=".8"/><path d="M472.6,494.9 C472.5,494.3 471.7,492.3 472.1,491.7 C472.6,491.1 475.1,491.4 475.3,491.2 C475.5,491.1 474.3,491.2 473.5,490.9 C472.8,490.6 471.4,489.4 470.6,489.6 C469.9,489.8 469.3,491.9 469.0,492.3" fill="none" stroke="#f08a28" stroke-width=".8"/><path d="M432.5,492.0 C433.0,491.8 434.6,491.4 435.5,490.8 C436.4,490.3 437.7,489.5 437.8,488.7 C438.0,487.9 437.0,486.4 436.2,485.9 C435.4,485.4 433.3,485.5 433.0,485.6 C432.8,485.7 434.0,486.8 434.6,486.5 C435.1,486.2 436.0,484.3 436.3,483.8" fill="none" stroke="#d9641a" stroke-width=".8"/><path d="M443.3,504.1 C443.6,504.5 444.6,506.2 445.5,506.4 C446.4,506.6 447.6,505.8 448.5,505.3 C449.4,504.7 450.0,503.7 450.9,503.1 C451.8,502.6 453.1,502.7 453.9,502.1 C454.7,501.5 455.6,500.5 455.8,499.6 C456.1,498.6 455.2,497.5 455.1,496.5 C455.1,495.4 455.5,493.8 455.6,493.3" fill="none" stroke="#f08a28" stroke-width=".8"/><path d="M428.8,515.0 C428.8,514.5 428.6,512.8 428.7,511.8 C428.9,510.8 429.5,509.8 429.8,508.8 C430.0,507.7 430.4,506.3 430.0,505.6 C429.5,504.8 427.7,504.1 427.0,504.4 C426.3,504.7 426.3,507.0 425.6,507.3 C424.8,507.5 423.5,506.0 422.6,506.1 C421.6,506.1 420.2,507.3 419.7,507.5" fill="none" stroke="#e8761e" stroke-width=".8"/><path d="M435.5,527.1 C435.1,526.7 433.1,525.9 433.0,525.1 C432.8,524.3 433.7,522.5 434.4,522.2 C435.1,522.0 436.5,523.7 437.3,523.6 C438.2,523.4 438.9,522.1 439.6,521.3 C440.4,520.6 440.9,519.5 441.8,519.0 C442.6,518.4 444.3,518.1 444.8,517.9" fill="none" stroke="#e8761e" stroke-width=".8"/><path d="M437.1,532.9 C437.6,532.8 439.2,532.8 440.2,532.6 C441.3,532.3 442.5,532.1 443.2,531.4 C443.9,530.7 444.7,529.2 444.4,528.4 C444.2,527.7 442.1,527.1 441.6,526.9" fill="none" stroke="#d9641a" stroke-width=".8"/><path d="M443.1,511.5 C443.6,511.3 445.1,510.9 446.1,510.4 C447.1,510.0 448.2,509.6 448.9,508.9 C449.7,508.2 449.8,506.8 450.6,506.2 C451.4,505.6 452.6,505.5 453.6,505.3 C454.7,505.0 456.1,504.2 456.8,504.6 C457.5,505.0 457.7,507.1 457.9,507.6" fill="none" stroke="#e8761e" stroke-width=".8"/><path d="M480.8,505.4 C480.4,505.1 478.9,503.5 478.1,503.7 C477.4,503.8 477.0,505.6 476.3,506.3 C475.5,507.0 474.4,507.3 473.5,507.8 C472.6,508.4 471.8,509.4 470.8,509.6 C469.8,509.8 468.6,508.9 467.6,509.0 C466.6,509.1 465.2,510.1 464.7,510.3" fill="none" stroke="#e8761e" stroke-width=".8"/><path d="M423.1,509.9 C423.5,509.5 424.7,507.8 425.5,507.8 C426.4,507.7 427.2,509.2 428.2,509.6 C429.1,510.0 430.4,509.6 431.3,510.0 C432.2,510.5 433.5,511.3 433.7,512.2 C433.9,513.0 432.6,514.6 432.3,515.1" fill="none" stroke="#e8761e" stroke-width=".8"/><path d="M463.0,499.5 C463.2,499.0 463.5,497.4 464.0,496.5 C464.5,495.6 465.4,494.1 466.2,494.1 C466.9,494.1 468.3,495.5 468.5,496.3 C468.7,497.2 467.5,498.8 467.2,499.3" fill="none" stroke="#d9641a" stroke-width=".8"/><path d="M444.4,521.6 C443.9,521.4 442.4,520.8 441.5,520.4 C440.5,519.9 439.6,519.3 438.7,518.8 C437.8,518.2 436.9,517.6 436.0,517.0 C435.1,516.4 434.4,515.5 433.4,515.2 C432.4,514.8 430.9,514.6 430.2,515.1 C429.5,515.6 429.0,517.5 429.3,518.2 C429.7,518.9 431.9,519.0 432.4,519.2" fill="none" stroke="#e8761e" stroke-width=".8"/><path d="M451.8,514.1 C452.2,514.5 453.2,515.8 454.1,516.3 C455.0,516.9 456.3,517.6 457.1,517.4 C458.0,517.2 458.5,515.7 459.4,515.1 C460.2,514.5 461.3,514.2 462.3,513.7 C463.2,513.3 464.2,512.5 465.2,512.5 C466.2,512.6 467.7,513.7 468.1,513.9" fill="none" stroke="#d9641a" stroke-width=".8"/><path d="M462.9,503.4 C463.2,503.0 464.5,501.7 464.6,500.7 C464.8,499.8 464.0,498.6 464.0,497.6 C464.0,496.6 464.0,495.2 464.6,494.5 C465.2,493.8 466.6,493.3 467.6,493.3 C468.6,493.3 469.6,494.7 470.5,494.6 C471.5,494.6 472.8,493.3 473.3,493.0" fill="none" stroke="#f08a28" stroke-width=".8"/><path d="M444.1,512.2 C444.5,512.5 445.5,513.9 446.3,514.5 C447.2,515.1 448.9,514.8 449.3,515.6 C449.8,516.3 448.7,518.1 449.2,518.8 C449.7,519.4 451.7,519.6 452.4,519.2 C453.1,518.8 453.2,516.7 453.4,516.1" fill="none" stroke="#d9641a" stroke-width=".8"/><path d="M450.1,533.4 C450.5,533.1 451.7,532.1 452.6,531.4 C453.4,530.8 454.5,530.3 455.1,529.4 C455.6,528.6 455.3,527.0 456.0,526.3 C456.7,525.7 458.5,525.3 459.1,525.8 C459.8,526.2 459.5,527.9 459.8,528.9 C460.1,529.9 460.3,531.4 461.0,531.9 C461.7,532.3 463.6,531.4 464.1,531.4" fill="none" stroke="#e8761e" stroke-width=".8"/><path d="M436.9,513.7 C436.8,513.1 436.7,511.4 436.2,510.6 C435.7,509.7 434.2,509.3 433.8,508.4 C433.5,507.5 434.6,505.8 434.1,505.2 C433.6,504.6 431.7,504.4 430.9,504.8 C430.1,505.2 429.8,506.6 429.3,507.6 C428.8,508.5 428.3,510.0 428.1,510.5" fill="none" stroke="#e8761e" stroke-width=".8"/><path d="M470.3,492.5 C470.8,492.6 472.7,493.4 473.5,493.0 C474.2,492.6 475.1,491.1 475.0,490.2 C474.9,489.4 473.5,488.7 472.8,487.9 C472.1,487.1 471.2,485.7 470.9,485.3" fill="none" stroke="#d9641a" stroke-width=".8"/><path d="M431.6,505.5 C431.4,506.0 430.8,507.5 430.4,508.4 C430.0,509.4 428.7,510.5 428.9,511.3 C429.1,512.0 430.7,512.9 431.6,513.0 C432.6,513.1 434.2,512.2 434.7,512.0" fill="none" stroke="#d9641a" stroke-width=".8"/><path d="M454.7,534.7 C454.2,534.9 452.6,535.9 451.7,535.8 C450.7,535.6 449.3,534.8 449.0,534.0 C448.8,533.2 450.3,531.7 450.0,530.9 C449.8,530.1 447.6,530.0 447.4,529.2 C447.1,528.4 448.4,526.7 448.6,526.2" fill="none" stroke="#e8761e" stroke-width=".8"/><path d="M426.8,504.1 C426.3,503.9 424.8,503.4 423.9,502.9 C422.9,502.4 421.6,501.9 421.3,501.1 C421.0,500.2 421.4,498.7 422.1,498.0 C422.7,497.3 424.6,497.0 425.1,496.8" fill="none" stroke="#d9641a" stroke-width=".8"/><path d="M449.5,516.4 C450.0,516.6 452.1,516.8 452.5,517.5 C453.0,518.3 452.8,520.2 452.3,520.7 C451.7,521.2 449.6,521.1 449.1,520.6 C448.5,520.0 449.1,517.9 449.1,517.4" fill="none" stroke="#d9641a" stroke-width=".8"/><path d="M435.8,520.5 C436.0,520.0 436.6,518.5 436.9,517.5 C437.1,516.5 437.1,515.4 437.3,514.3 C437.6,513.3 437.6,512.0 438.3,511.3 C438.9,510.6 440.3,510.5 441.2,510.0 C442.2,509.6 443.8,509.4 444.1,508.6 C444.4,507.9 442.8,506.6 442.9,505.7 C443.0,504.7 444.8,503.9 444.7,503.0 C444.6,502.2 442.8,501.2 442.4,500.8" fill="none" stroke="#e8761e" stroke-width=".8"/><path d="M429.8,496.8 C429.8,496.2 429.6,494.0 430.2,493.6 C430.8,493.2 432.8,493.5 433.4,494.1 C434.0,494.8 433.6,496.3 433.7,497.3 C433.8,498.4 434.2,499.5 433.9,500.5 C433.7,501.5 432.6,502.8 432.4,503.3" fill="none" stroke="#e8761e" stroke-width=".8"/><path d="M433.1,508.7 C432.7,509.1 431.7,510.3 431.0,511.1 C430.3,511.9 429.7,513.2 428.8,513.4 C427.9,513.6 426.7,512.9 425.7,512.5 C424.7,512.1 423.9,511.2 422.9,511.0 C421.9,510.8 420.0,511.4 419.7,511.3 C419.5,511.2 420.6,510.3 421.3,510.5 C422.0,510.6 423.7,511.5 423.9,512.3 C424.2,513.1 423.1,514.8 422.9,515.3" fill="none" stroke="#f08a28" stroke-width=".8"/><path d="M438.7,484.8 C438.2,484.5 436.9,483.2 435.9,483.2 C435.0,483.1 433.2,484.4 433.0,484.6 C432.8,484.7 433.9,484.2 434.7,484.0 C435.5,483.7 436.7,483.1 437.8,483.0 C438.8,482.8 440.4,483.5 441.0,483.0 C441.5,482.5 441.2,480.4 441.2,479.8" fill="none" stroke="#e8761e" stroke-width=".8"/><path d="M453.1,500.8 C452.7,500.5 451.4,498.8 450.6,498.8 C449.8,498.8 448.4,499.9 448.0,500.7 C447.6,501.5 448.8,503.2 448.4,503.9 C447.9,504.6 446.3,504.5 445.3,504.8 C444.3,505.2 443.2,506.4 442.4,506.2 C441.6,506.0 440.6,504.6 440.5,503.7 C440.3,502.8 441.2,501.7 441.4,500.6 C441.5,499.6 441.4,498.0 441.4,497.4" fill="none" stroke="#f08a28" stroke-width=".8"/><path d="M450.2,483.9 C449.7,484.0 447.6,484.2 447.2,484.9 C446.7,485.6 447.1,487.1 447.2,488.1 C447.4,489.2 447.4,490.8 448.1,491.2 C448.8,491.6 450.4,491.1 451.2,490.5 C452.0,490.0 452.2,488.5 453.0,487.9 C453.8,487.3 455.3,486.5 456.0,486.8 C456.7,487.2 457.0,489.3 457.2,489.8" fill="none" stroke="#e8761e" stroke-width=".8"/><path d="M431.2,490.1 C431.4,489.6 432.3,488.0 432.2,487.1 C432.1,486.1 430.8,484.4 430.7,484.2 C430.6,484.0 431.1,485.1 431.5,485.8 C431.9,486.5 432.7,487.6 433.1,488.6 C433.5,489.6 434.1,490.9 433.9,491.7 C433.6,492.6 431.8,493.4 431.4,493.8" fill="none" stroke="#d9641a" stroke-width=".8"/><path d="M466.8,519.5 C467.0,519.0 467.8,517.6 468.1,516.5 C468.4,515.5 468.3,514.4 468.5,513.4 C468.7,512.3 469.5,511.1 469.2,510.3 C468.9,509.4 467.2,508.5 466.8,508.2" fill="none" stroke="#f08a28" stroke-width=".8"/><path d="M476.7,509.1 C476.3,509.4 475.1,510.6 474.2,511.0 C473.2,511.5 472.0,512.2 471.1,511.9 C470.3,511.7 469.9,509.9 469.0,509.5 C468.1,509.1 466.7,509.9 465.8,509.5 C464.9,509.2 463.9,507.7 463.5,507.3" fill="none" stroke="#d9641a" stroke-width=".8"/><path d="M479.4,495.6 C479.2,495.3 478.9,494.1 478.5,494.0 C478.1,493.9 477.6,495.1 476.9,494.8 C476.3,494.6 475.5,492.8 474.6,492.6 C473.7,492.5 472.3,493.2 471.7,493.9 C471.0,494.6 470.8,496.4 470.6,496.9" fill="none" stroke="#e8761e" stroke-width=".8"/><path d="M435.6,482.0 C435.5,482.3 435.3,483.1 434.6,483.5 C433.9,483.8 432.2,483.6 431.5,484.3 C430.8,484.9 430.4,487.0 430.4,487.3 C430.4,487.6 430.9,486.1 431.6,486.0 C432.3,485.8 434.0,486.8 434.8,486.4 C435.5,486.0 435.5,484.4 436.1,483.5 C436.6,482.6 437.7,481.4 438.0,481.0" fill="none" stroke="#d9641a" stroke-width=".8"/><path d="M425.8,507.4 C426.4,507.4 428.3,507.1 429.0,507.6 C429.8,508.1 430.4,509.6 430.4,510.5 C430.3,511.4 429.3,512.3 428.7,513.2 C428.2,514.2 427.0,515.3 427.3,516.1 C427.5,516.8 429.5,516.9 430.0,517.7 C430.6,518.5 430.7,519.8 430.7,520.8 C430.7,521.9 430.8,523.4 430.2,524.0 C429.6,524.6 427.5,524.3 427.0,524.4" fill="none" stroke="#e8761e" stroke-width=".8"/><path d="M431.9,528.1 C432.4,528.2 434.2,529.0 435.0,528.7 C435.8,528.4 436.0,526.7 436.8,526.0 C437.6,525.4 439.3,525.5 439.7,524.8 C440.1,524.1 439.3,522.2 439.2,521.7" fill="none" stroke="#e8761e" stroke-width=".8"/><path d="M440.2,505.0 C439.9,505.3 438.6,506.4 438.1,507.3 C437.5,508.2 437.6,509.5 437.0,510.3 C436.5,511.2 434.8,511.9 434.8,512.7 C434.8,513.5 436.0,514.7 436.9,515.1 C437.8,515.4 439.1,515.0 440.1,514.8 C441.1,514.5 442.2,514.2 443.1,513.6 C443.9,513.0 444.8,511.6 445.2,511.2" fill="none" stroke="#d9641a" stroke-width=".8"/><path d="M445.6,488.1 C445.4,488.6 444.4,490.0 444.3,491.0 C444.2,492.1 444.2,493.6 444.8,494.2 C445.4,494.8 447.3,493.9 448.0,494.5 C448.8,495.0 449.4,496.5 449.3,497.4 C449.1,498.3 447.8,499.5 447.0,499.6 C446.1,499.7 444.5,498.7 444.2,498.0 C443.9,497.2 444.9,495.9 445.4,495.0 C445.9,494.1 446.9,492.8 447.2,492.4" fill="none" stroke="#f08a28" stroke-width=".8"/><path d="M472.7,492.0 C473.2,492.2 475.4,493.2 475.6,493.4 C475.8,493.6 474.2,493.7 473.8,493.1 C473.5,492.6 473.7,490.4 473.3,490.0 C473.0,489.6 472.6,490.8 471.8,490.9 C471.0,491.0 469.1,490.6 468.6,490.5" fill="none" stroke="#e8761e" stroke-width=".8"/><path d="M470.0,501.2 C470.4,500.8 471.8,499.8 472.3,498.9 C472.7,498.0 473.1,496.5 472.7,495.7 C472.3,495.0 470.3,495.1 469.8,494.4 C469.4,493.6 470.1,491.7 470.2,491.2" fill="none" stroke="#e8761e" stroke-width=".8"/><path d="M463.3,496.9 C462.8,497.0 460.7,496.5 460.1,497.0 C459.5,497.5 459.7,499.1 459.5,500.1 C459.2,501.2 458.9,502.2 458.7,503.2 C458.4,504.3 457.7,505.4 457.9,506.3 C458.1,507.3 459.1,508.6 459.9,508.8 C460.8,509.1 462.0,508.3 463.0,507.8 C463.9,507.3 464.6,506.4 465.5,505.9 C466.4,505.3 467.9,504.8 468.4,504.6" fill="none" stroke="#e8761e" stroke-width=".8"/><path d="M459.8,521.8 C459.8,522.3 460.1,524.1 459.7,525.0 C459.2,525.9 458.1,526.6 457.2,527.0 C456.2,527.5 454.5,527.0 454.0,527.7 C453.6,528.3 454.1,530.0 454.7,530.8 C455.2,531.6 456.4,532.4 457.3,532.6 C458.3,532.8 459.5,532.6 460.5,532.2 C461.5,531.8 462.7,530.7 463.1,530.3" fill="none" stroke="#e8761e" stroke-width=".8"/><path d="M458.6,523.1 C459.2,523.0 461.2,522.3 461.8,522.8 C462.4,523.3 462.7,525.2 462.3,526.0 C461.9,526.8 460.5,527.2 459.6,527.7 C458.7,528.3 457.7,528.8 456.7,529.1 C455.7,529.4 454.1,529.5 453.6,529.6" fill="none" stroke="#e8761e" stroke-width=".8"/><path d="M453.8,513.1 C453.5,513.5 452.1,514.6 451.8,515.6 C451.5,516.5 452.5,518.1 452.0,518.8 C451.6,519.4 450.0,519.6 448.9,519.6 C447.9,519.6 446.6,519.4 445.9,518.8 C445.1,518.2 445.0,516.2 444.3,516.0 C443.5,515.8 441.9,517.2 441.4,517.4" fill="none" stroke="#f08a28" stroke-width=".8"/><path d="M457.8,515.2 C458.1,515.7 458.5,517.4 459.2,518.1 C459.9,518.9 460.9,519.4 461.9,519.8 C462.9,520.2 464.0,520.1 465.0,520.5 C466.0,520.9 467.2,521.2 467.9,522.0 C468.6,522.7 469.1,524.6 469.1,524.9 C469.0,525.3 467.8,524.6 467.6,523.9 C467.3,523.2 467.6,521.2 467.6,520.7" fill="none" stroke="#f08a28" stroke-width=".8"/><path d="M447.2,505.6 C447.2,505.1 447.6,503.1 447.0,502.4 C446.5,501.8 444.6,502.3 443.9,501.7 C443.2,501.1 442.6,499.5 442.8,498.7 C443.1,497.9 445.1,497.7 445.4,496.8 C445.8,496.0 445.0,494.2 444.9,493.7" fill="none" stroke="#f08a28" stroke-width=".8"/><path d="M459.0,483.1 C458.6,483.4 457.0,484.6 456.2,484.5 C455.3,484.4 454.7,482.9 453.7,482.4 C452.8,481.9 451.5,481.4 450.6,481.6 C449.8,481.9 449.0,483.1 448.5,484.0 C448.0,484.9 447.4,486.2 447.6,487.1 C447.9,488.0 449.2,488.6 450.1,489.2 C451.0,489.7 452.5,490.3 453.0,490.5" fill="none" stroke="#d9641a" stroke-width=".8"/><path d="M461.5,518.3 C461.0,518.2 459.1,517.4 458.3,517.8 C457.5,518.2 456.9,519.5 456.6,520.5 C456.4,521.5 456.4,523.0 457.0,523.7 C457.5,524.4 459.0,524.3 460.1,524.6 C461.1,524.8 462.1,525.0 463.2,525.2 C464.2,525.5 465.3,526.0 466.3,525.9 C467.3,525.8 468.3,525.1 469.3,524.7 C470.3,524.3 471.8,523.8 472.3,523.6" fill="none" stroke="#d9641a" stroke-width=".8"/><path d="M436.7,513.8 C436.2,513.6 434.8,512.6 433.8,512.5 C432.8,512.4 431.4,512.8 430.7,513.4 C430.0,514.0 430.0,516.0 429.3,516.3 C428.6,516.6 427.3,515.6 426.3,515.3 C425.3,514.9 424.1,514.8 423.2,514.2 C422.4,513.7 421.1,512.3 421.1,511.9 C421.0,511.5 422.1,511.4 422.8,511.6 C423.6,511.8 425.3,512.7 425.7,513.0" fill="none" stroke="#e8761e" stroke-width=".8"/><path d="M433.1,493.3 C433.2,492.7 433.3,491.1 433.8,490.1 C434.2,489.2 435.2,488.5 435.6,487.5 C436.0,486.5 436.1,485.4 436.3,484.4 C436.5,483.3 436.4,481.5 436.7,481.2 C437.0,480.9 437.8,482.3 438.0,482.5" fill="none" stroke="#d9641a" stroke-width=".8"/><path d="M451.6,484.3 C451.9,483.8 452.5,482.0 453.4,481.6 C454.2,481.2 455.8,481.2 456.6,481.7 C457.3,482.2 457.9,483.6 458.0,484.6 C458.0,485.6 456.9,487.0 456.7,487.5" fill="none" stroke="#e8761e" stroke-width=".8"/><path d="M446.9,492.0 C446.5,491.6 444.9,490.5 444.7,489.6 C444.5,488.7 445.3,487.5 445.8,486.6 C446.3,485.7 447.4,485.0 447.7,484.1 C448.0,483.1 447.3,481.8 447.7,480.9 C448.0,480.0 449.1,478.9 450.0,478.7 C450.9,478.4 452.5,479.4 453.0,479.6" fill="none" stroke="#f08a28" stroke-width=".8"/><path d="M447.1,498.9 C447.5,498.5 449.3,497.6 449.4,496.7 C449.6,495.9 448.3,494.9 447.9,493.9 C447.5,493.0 447.3,491.9 447.0,490.9 C446.6,489.9 445.9,488.9 445.9,487.9 C445.8,486.8 446.7,485.8 446.7,484.8 C446.6,483.8 445.6,482.3 445.4,481.8" fill="none" stroke="#e8761e" stroke-width=".8"/><path d="M463.0,481.1 C463.2,481.6 463.4,483.5 464.1,484.1 C464.9,484.6 467.1,484.1 467.3,484.3 C467.6,484.4 466.5,485.0 465.7,485.0 C464.9,484.9 463.7,484.0 462.6,483.9 C461.6,483.8 460.1,483.6 459.5,484.2 C458.8,484.8 458.8,486.8 458.7,487.3" fill="none" stroke="#e8761e" stroke-width=".8"/><path d="M456.7,533.0 C457.2,532.7 458.4,531.3 459.4,531.2 C460.3,531.1 461.3,532.3 462.3,532.4 C463.4,532.5 464.6,532.2 465.5,531.7 C466.3,531.2 467.1,530.2 467.7,529.3 C468.2,528.5 469.1,527.0 469.0,526.4 C468.9,525.9 467.5,526.1 467.2,526.0" fill="none" stroke="#f08a28" stroke-width=".8"/><path d="M457.8,525.4 C458.2,525.0 459.4,523.9 460.2,523.3 C461.1,522.7 462.0,521.6 462.9,521.6 C463.9,521.6 464.9,522.6 465.7,523.2 C466.6,523.8 467.2,525.1 468.1,525.3 C469.0,525.5 470.9,524.6 471.2,524.3 C471.4,524.0 469.9,523.5 469.6,523.4" fill="none" stroke="#d9641a" stroke-width=".8"/><path d="M473.2,489.7 C473.7,490.0 475.7,490.7 475.9,491.5 C476.1,492.2 475.1,493.5 474.4,494.3 C473.7,495.0 472.6,496.0 471.7,496.0 C470.7,496.1 469.5,494.6 468.7,494.8 C467.9,495.1 467.3,497.1 467.0,497.5" fill="none" stroke="#d9641a" stroke-width=".8"/><path d="M423.6,521.7 C423.3,521.3 422.1,520.0 421.8,519.0 C421.4,518.1 421.3,516.3 421.5,515.8 C421.7,515.4 422.8,515.6 423.3,516.2 C423.8,516.7 424.2,518.7 424.4,519.2" fill="none" stroke="#e8761e" stroke-width=".8"/><path d="M434.7,489.7 C434.5,489.2 433.9,487.7 433.4,486.8 C432.9,485.8 431.7,484.3 431.7,484.0 C431.7,483.7 433.0,484.3 433.2,484.9 C433.5,485.6 433.1,487.2 433.4,488.1 C433.7,489.1 434.4,490.5 435.2,490.8 C436.0,491.2 437.3,490.4 438.3,490.2 C439.4,490.0 440.5,489.3 441.4,489.6 C442.4,489.8 443.4,491.4 443.8,491.8" fill="none" stroke="#e8761e" stroke-width=".8"/><path d="M445.9,527.2 C446.2,526.7 446.6,524.9 447.3,524.4 C448.1,523.8 449.8,523.7 450.5,524.2 C451.2,524.7 452.0,526.4 451.7,527.2 C451.4,527.9 449.3,528.4 448.9,528.7" fill="none" stroke="#e8761e" stroke-width=".8"/><path d="M453.6,520.0 C454.2,520.1 456.2,519.8 456.8,520.4 C457.4,521.0 456.7,522.7 457.2,523.6 C457.7,524.4 458.9,525.3 459.8,525.4 C460.7,525.5 461.7,524.3 462.7,524.0 C463.7,523.8 464.9,523.7 465.9,524.0 C466.9,524.2 468.4,525.4 468.6,525.7 C468.7,526.0 467.1,525.7 466.8,525.7" fill="none" stroke="#e8761e" stroke-width=".8"/><path d="M446.9,494.1 C447.4,494.0 449.0,493.1 450.0,493.2 C451.0,493.3 451.8,494.5 452.8,494.6 C453.8,494.8 455.3,494.7 456.0,494.1 C456.7,493.5 456.8,491.5 456.9,491.0" fill="none" stroke="#f08a28" stroke-width=".8"/><path d="M419.2,505.8 C419.4,506.0 419.9,506.9 420.6,506.9 C421.4,506.9 423.0,506.4 423.6,505.7 C424.2,505.0 424.6,503.6 424.5,502.6 C424.4,501.7 423.0,500.9 422.8,499.9 C422.6,498.9 422.9,497.8 423.2,496.8 C423.5,495.7 424.4,494.3 424.6,493.9" fill="none" stroke="#f08a28" stroke-width=".8"/><path d="M448.1,531.5 C447.5,531.6 445.6,532.5 444.9,532.1 C444.2,531.7 444.1,530.2 443.8,529.1 C443.5,528.1 442.8,526.8 443.1,526.0 C443.5,525.2 444.9,524.7 445.7,524.1 C446.5,523.4 447.5,522.8 448.2,522.0 C448.9,521.2 449.6,519.8 449.9,519.3" fill="none" stroke="#d9641a" stroke-width=".8"/><path d="M462.9,523.8 C463.4,524.0 465.0,524.8 466.0,524.7 C466.9,524.5 468.2,523.6 468.5,522.7 C468.8,521.9 467.6,520.6 467.8,519.6 C468.0,518.7 469.1,517.3 469.9,517.2 C470.6,517.1 472.0,518.8 472.4,519.2" fill="none" stroke="#d9641a" stroke-width=".8"/><path d="M448.6,491.3 C448.2,491.7 447.2,493.2 446.3,493.5 C445.4,493.8 443.9,492.8 443.1,493.2 C442.3,493.6 442.3,495.6 441.5,495.9 C440.7,496.2 439.1,495.7 438.4,495.0 C437.7,494.4 437.6,492.5 437.4,492.0" fill="none" stroke="#f08a28" stroke-width=".8"/><path d="M436.1,509.1 C436.5,508.8 437.8,507.3 438.7,507.2 C439.6,507.1 441.1,507.7 441.6,508.4 C442.2,509.1 442.3,510.7 441.9,511.6 C441.5,512.4 439.5,512.6 439.3,513.5 C439.1,514.3 440.3,515.9 440.5,516.4" fill="none" stroke="#d9641a" stroke-width=".8"/><path d="M459.8,508.7 C459.6,508.3 458.5,506.8 458.4,505.9 C458.3,504.9 459.0,503.8 459.4,502.8 C459.9,501.9 460.4,500.9 460.9,500.0 C461.4,499.1 462.6,497.9 462.4,497.2 C462.2,496.4 460.6,495.6 459.6,495.6 C458.7,495.6 457.3,496.3 456.8,497.0 C456.3,497.8 456.5,499.7 456.4,500.2" fill="none" stroke="#e8761e" stroke-width=".8"/><path d="M471.1,503.3 C471.6,503.5 473.3,504.5 474.2,504.3 C475.1,504.1 475.6,502.3 476.5,502.0 C477.3,501.8 479.3,502.7 479.5,502.9 C479.8,503.2 478.4,503.0 477.8,503.5 C477.2,504.0 475.9,505.2 475.9,506.1 C475.9,506.9 477.1,508.0 478.0,508.5 C478.9,509.0 480.6,509.1 481.1,509.2" fill="none" stroke="#e8761e" stroke-width=".8"/><path d="M463.4,517.9 C463.6,517.4 465.1,515.8 464.8,515.0 C464.6,514.3 463.0,513.9 462.0,513.6 C461.0,513.3 459.7,513.7 458.8,513.3 C457.9,512.9 456.9,511.5 456.5,511.1" fill="none" stroke="#f08a28" stroke-width=".8"/><path d="M438.0,483.0 C438.5,482.9 440.4,483.1 441.1,482.5 C441.8,482.0 442.1,479.8 442.1,479.5 C442.0,479.2 440.8,480.5 440.9,480.9 C441.0,481.2 442.1,481.1 442.5,481.8 C442.8,482.5 443.1,484.4 443.2,484.9" fill="none" stroke="#d9641a" stroke-width=".8"/><path d="M469.3,510.4 C469.8,510.2 471.3,509.2 472.3,509.2 C473.3,509.1 474.3,510.1 475.3,510.2 C476.3,510.2 477.7,509.1 478.4,509.5 C479.1,509.9 479.3,511.5 479.6,512.5 C479.8,513.5 480.0,515.1 480.1,515.6" fill="none" stroke="#d9641a" stroke-width=".8"/><path d="M448.4,499.7 C448.8,499.4 450.0,498.1 450.9,497.8 C451.9,497.4 453.1,497.2 454.1,497.5 C455.1,497.7 455.9,499.2 456.8,499.2 C457.7,499.3 458.8,498.4 459.7,497.8 C460.5,497.2 461.1,495.8 462.0,495.6 C462.9,495.4 464.1,496.1 465.0,496.6 C466.0,497.1 466.8,498.5 467.6,498.5 C468.5,498.4 469.7,496.8 470.1,496.4" fill="none" stroke="#f08a28" stroke-width=".8"/><path d="M447.5,523.8 C447.0,523.6 445.4,522.5 444.5,522.7 C443.6,522.8 442.5,524.0 442.3,524.9 C442.0,525.8 442.2,527.4 442.8,528.1 C443.3,528.8 445.0,528.4 445.8,529.0 C446.7,529.6 447.1,530.7 447.8,531.5 C448.5,532.3 449.4,533.7 449.9,533.9 C450.5,534.0 450.8,532.7 451.0,532.4" fill="none" stroke="#e8761e" stroke-width=".8"/><path d="M467.4,514.0 C467.0,514.3 465.8,515.4 464.9,515.9 C463.9,516.4 462.2,516.1 461.8,516.8 C461.4,517.5 462.1,519.0 462.6,519.9 C463.1,520.8 464.0,521.6 464.9,522.1 C465.8,522.7 467.5,522.9 468.0,523.0" fill="none" stroke="#e8761e" stroke-width=".8"/><path d="M425.2,499.4 C425.0,498.9 424.1,497.6 423.8,496.6 C423.5,495.6 423.2,493.8 423.4,493.4 C423.6,493.0 424.6,493.4 425.1,494.0 C425.6,494.6 426.4,496.2 426.2,497.0 C426.0,497.8 424.5,498.4 423.6,498.9 C422.7,499.5 421.3,500.2 420.8,500.4" fill="none" stroke="#d9641a" stroke-width=".8"/><path d="M459.6,507.8 C459.8,507.4 460.5,505.9 461.0,505.0 C461.5,504.0 461.8,502.8 462.6,502.1 C463.3,501.5 464.6,500.8 465.5,501.0 C466.4,501.1 467.1,502.8 468.0,503.0 C468.9,503.2 470.6,502.3 471.1,502.1" fill="none" stroke="#e8761e" stroke-width=".8"/><path d="M460.6,488.3 C461.1,488.5 462.5,489.3 463.5,489.7 C464.5,490.0 465.6,490.3 466.7,490.3 C467.7,490.2 469.2,489.9 469.7,489.2 C470.1,488.5 469.7,486.4 469.4,486.0 C469.1,485.6 468.1,486.7 467.8,486.8" fill="none" stroke="#d9641a" stroke-width=".8"/><path d="M449.5,483.7 C449.8,483.2 450.5,481.8 451.2,481.0 C451.9,480.2 453.3,478.9 453.5,478.7 C453.6,478.5 452.0,479.1 452.0,479.8 C452.0,480.5 453.6,481.8 453.5,482.7 C453.3,483.5 451.4,484.4 451.0,484.7" fill="none" stroke="#f08a28" stroke-width=".8"/><path d="M473.6,513.3 C474.1,513.3 476.1,513.0 476.8,513.6 C477.4,514.2 477.6,516.4 477.4,516.7 C477.3,517.1 476.5,516.3 475.9,515.8 C475.2,515.3 474.0,514.0 473.6,513.6" fill="none" stroke="#f08a28" stroke-width=".8"/><path d="M438.7,490.3 C438.1,490.5 435.1,490.8 435.0,491.3 C435.0,491.8 438.2,492.9 438.1,493.4 C438.0,494.0 434.6,493.9 434.5,494.4 C434.4,495.0 437.7,496.1 437.6,496.6 C437.5,497.1 434.0,497.1 433.9,497.6 C433.8,498.1 437.1,499.2 437.0,499.7 C436.9,500.3 433.5,500.2 433.4,500.7 C433.3,501.3 436.5,502.4 436.5,502.9 C436.4,503.4 433.4,503.7 432.8,503.9" fill="none" stroke="#4d7df2" stroke-width="1.3"/><path d="M445.7,499.9 C445.2,500.2 442.4,501.2 442.4,501.7 C442.5,502.3 445.9,502.5 446.0,503.0 C446.0,503.6 442.7,504.4 442.7,504.9 C442.8,505.5 446.2,505.7 446.3,506.2 C446.3,506.8 443.0,507.6 443.0,508.1 C443.1,508.6 446.5,508.9 446.5,509.4 C446.6,509.9 443.2,510.8 443.3,511.3 C443.3,511.8 446.8,512.1 446.8,512.6 C446.9,513.1 443.5,514.0 443.6,514.5 C443.6,515.0 447.0,515.3 447.1,515.8 C447.1,516.3 443.8,517.1 443.8,517.7 C443.9,518.2 446.8,518.8 447.4,519.0" fill="none" stroke="#4d7df2" stroke-width="1.3"/><path d="M453.7,493.1 C453.1,493.4 450.2,493.9 450.2,494.4 C450.1,495.0 453.5,495.8 453.4,496.3 C453.4,496.9 449.9,497.1 449.9,497.6 C449.8,498.2 453.2,499.0 453.1,499.5 C453.1,500.1 449.7,500.3 449.6,500.8 C449.6,501.4 452.9,502.2 452.9,502.7 C452.8,503.2 449.4,503.5 449.3,504.0 C449.3,504.5 452.6,505.4 452.6,505.9 C452.5,506.4 449.1,506.7 449.1,507.2 C449.0,507.7 451.8,508.8 452.3,509.1" fill="none" stroke="#4d7df2" stroke-width="1.3"/><path d="M460.7,502.7 C460.2,503.1 457.5,504.3 457.6,504.9 C457.7,505.4 461.1,505.3 461.2,505.9 C461.3,506.4 458.1,507.5 458.2,508.0 C458.3,508.5 461.7,508.5 461.8,509.0 C461.9,509.5 458.6,510.6 458.7,511.2 C458.8,511.7 462.2,511.6 462.3,512.2 C462.4,512.7 459.2,513.8 459.3,514.3 C459.4,514.9 462.8,514.8 462.9,515.3 C463.0,515.8 459.7,517.0 459.8,517.5 C459.9,518.0 463.4,517.9 463.5,518.5 C463.5,519.0 460.9,520.3 460.4,520.6" fill="none" stroke="#4d7df2" stroke-width="1.3"/><path d="M467.6,509.4 C467.2,509.9 464.8,511.6 464.9,512.1 C465.1,512.6 468.5,511.9 468.7,512.4 C468.9,512.9 465.9,514.6 466.0,515.1 C466.2,515.6 469.6,514.9 469.8,515.4 C470.0,515.9 467.0,517.6 467.1,518.1 C467.3,518.6 470.7,517.9 470.9,518.4 C471.1,518.9 468.1,520.6 468.2,521.1 C468.4,521.6 471.8,520.9 472.0,521.4 C472.2,521.9 469.8,523.7 469.3,524.1" fill="none" stroke="#4d7df2" stroke-width="1.3"/><path d="M436.3,518.3 C436.5,518.9 436.8,521.9 437.3,522.0 C437.8,522.0 438.9,518.8 439.4,518.9 C440.0,519.0 439.9,522.4 440.4,522.5 C441.0,522.6 442.1,519.3 442.6,519.4 C443.1,519.5 443.1,523.0 443.6,523.1 C444.1,523.2 445.4,520.5 445.7,520.0" fill="none" stroke="#4d7df2" stroke-width="1.3"/><path d="M448.7,525.7 C448.2,526.1 445.5,527.3 445.6,527.9 C445.7,528.4 449.1,528.3 449.2,528.9 C449.3,529.4 446.1,530.5 446.2,531.0 C446.3,531.5 449.7,531.5 449.8,532.0 C449.9,532.5 446.6,533.6 446.7,534.2 C446.8,534.7 449.7,535.0 450.3,535.2" fill="none" stroke="#4d7df2" stroke-width="1.3"/><path d="M473.7,500.3 C473.1,500.5 470.1,500.8 470.0,501.3 C470.0,501.8 473.2,502.9 473.1,503.4 C473.0,504.0 469.6,503.9 469.5,504.4 C469.4,505.0 472.7,506.1 472.6,506.6 C472.5,507.1 469.0,507.1 468.9,507.6 C468.8,508.1 471.5,509.4 472.0,509.7" fill="none" stroke="#4d7df2" stroke-width="1.3"/><path d="M441.6,480.4 C441.6,481.0 441.4,484.0 441.9,484.1 C442.4,484.3 444.1,481.3 444.6,481.5 C445.1,481.7 444.4,485.1 444.9,485.2 C445.4,485.4 447.1,482.4 447.6,482.6 C448.1,482.8 447.9,485.7 447.9,486.3" fill="none" stroke="#4d7df2" stroke-width="1.3"/><path d="M456.5,515.1 C456.1,515.7 454.1,517.8 454.3,518.2 C454.6,518.7 457.8,517.5 458.1,517.9 C458.3,518.4 455.7,520.5 455.9,521.0 C456.2,521.5 459.4,520.2 459.7,520.7 C459.9,521.2 457.3,523.3 457.5,523.8 C457.8,524.2 460.6,523.5 461.3,523.5" fill="none" stroke="#4d7df2" stroke-width="1.3"/><path d="M431.7,505.0 C431.1,505.3 428.3,506.1 428.3,506.6 C428.3,507.1 431.7,507.7 431.7,508.2 C431.7,508.7 428.3,509.3 428.3,509.8 C428.3,510.3 431.7,510.9 431.7,511.4 C431.7,511.9 428.9,512.7 428.3,513.0" fill="none" stroke="#4d7df2" stroke-width="1.3"/><path d="M420,521 L428,514" stroke="#8fe61e" stroke-width="2.6" stroke-linecap="round"/><path d="M441,524 L455,517" stroke="#8fe61e" stroke-width="2.6" stroke-linecap="round"/><path d="M460,485 L462,496" stroke="#8fe61e" stroke-width="2.6" stroke-linecap="round"/><path d="M469,492 L470,503" stroke="#8fe61e" stroke-width="2.6" stroke-linecap="round"/><path d="M476,496 L478,508" stroke="#8fe61e" stroke-width="2.6" stroke-linecap="round"/><circle cx="441.5" cy="479.5" r="2.6" fill="#f2c21a"/><circle cx="428.5" cy="500" r="2.6" fill="#3ed03e"/><circle cx="473" cy="488" r="2.6" fill="#6fe03a"/><circle cx="454.5" cy="522" r="2.6" fill="#3ed03e"/><circle cx="454" cy="491" r="2.1" fill="#d63ad6"/><circle cx="447" cy="533" r="1.3" fill="#f08a28"/><circle cx="481" cy="505" r="1.3" fill="#f08a28"/><rect x="0" y="633" width="700" height="67" fill="#ffffff"/><rect x="522.800" y="638.100" width="171.200" height="57" fill="#1b3c7c"/><rect x="541.300" y="651.900" width="28" height="28" fill="#ffffff"/><rect x="544.700" y="653.200" width="21.200" height="25.400" fill="#1b3c7c"/><path d="M555.300,657.600 Q557.200,659.500 556.200,661.500 Q559.500,661 562,663.700 L562,670 L560.300,670 L560.300,665.600 Q558.500,664 556.500,664.700 L558.800,673.800 L557.300,674 L555.300,667.500 L553.300,674 L551.800,673.800 L554.100,664.700 Q552.100,664 550.300,665.600 L550.300,670 L548.600,670 L548.600,663.700 Q551.100,661 554.400,661.500 Q553.400,659.500 555.300,657.600Z" fill="#ffffff"/><path d="M574.97,657.11 L588.18,657.11 M581.58,654.31 L581.58,669.54 M577.27,659.28 L585.88,659.28 L585.88,663.95 L577.27,663.95 L577.27,659.28 M577.27,661.61 L585.88,661.61 M581.00,664.26 L578.71,666.74 L574.97,668.61 M582.15,664.26 L584.45,666.74 L588.18,668.61 " stroke="#ffffff" stroke-width="1.350" fill="none" stroke-linecap="butt" stroke-linejoin="miter"/><path d="M599.24,654.31 L599.24,656.49 M592.63,656.80 L605.84,656.80 M595.51,658.97 L602.97,658.97 L602.97,662.70 L595.51,662.70 L595.51,658.97 M599.24,662.70 L599.24,669.23 L597.52,668.61 M596.08,664.26 L594.93,666.74 L592.92,668.30 M602.40,664.26 L603.54,666.74 L605.55,668.30 " stroke="#ffffff" stroke-width="1.350" fill="none" stroke-linecap="butt" stroke-linejoin="miter"/><path d="M611.16,656.49 L622.64,656.49 M616.90,656.49 L616.90,667.68 M610.01,667.68 L623.79,667.68 " stroke="#ffffff" stroke-width="1.350" fill="none" stroke-linecap="butt" stroke-linejoin="miter"/><path d="M632.55,654.31 L632.55,658.04 M636.57,654.31 L636.57,658.04 M629.39,654.93 L630.54,657.42 M639.73,654.93 L638.58,657.42 M627.95,658.35 L641.16,658.35 M631.97,658.66 L632.55,660.53 M637.14,658.66 L636.57,660.53 M629.10,660.84 L640.01,660.84 M629.96,662.70 L639.15,662.70 M627.67,664.57 L641.45,664.57 M634.56,660.84 L634.56,669.54 M633.70,664.88 L631.40,667.36 L627.95,668.92 M635.42,664.88 L637.72,667.36 L641.16,668.92 " stroke="#ffffff" stroke-width="1.350" fill="none" stroke-linecap="butt" stroke-linejoin="miter"/><path d="M645.61,659.59 L658.82,659.59 M652.22,654.31 L652.22,659.59 L651.07,663.63 L648.77,666.74 L645.61,668.92 M652.51,660.22 L653.94,664.26 L656.24,667.05 L658.82,668.92 " stroke="#ffffff" stroke-width="1.350" fill="none" stroke-linecap="butt" stroke-linejoin="miter"/><path d="M665.57,654.62 L666.72,657.11 M669.30,654.31 L670.17,656.80 M674.47,654.62 L672.75,657.11 M663.85,660.84 L663.85,658.04 L675.91,658.04 L675.05,660.53 M666.15,661.15 L673.61,661.15 L670.17,663.63 M670.17,663.32 L670.17,669.23 L668.44,668.61 M662.99,665.19 L676.77,665.19 " stroke="#ffffff" stroke-width="1.350" fill="none" stroke-linecap="butt" stroke-linejoin="miter"/></svg><div class="abs" id="title" style="top:12px;left:18.1px;font-size:24.73px">Deep Dive into the Auxin Signaling Mechanisms in Algae</div>
<div class="abs t1" style="left:11px;top:78.3px">The plant<br>hormone auxin<br>greatly affects the<br>development and<br>environmental<br>adaptation in land<br>plants</div>
<div class="abs t1" style="left:578px;top:96.3px">However, the<br>auxin signaling<br>pathway in<br>algae is not well<br>understood</div>
<div class="abs" id="bandt" style="top:236.2px">Analyzing the effects of auxin in the algae <i>Klebsormidium nitens</i></div>
<div class="abs t2" style="left:270.3px;top:297.6px;line-height:15px">Gene<br>expression<br>profiling</div>
<div class="abs t2" style="left:224.3px;top:409.3px;line-height:15.3px;font-size:12.95px">DNA binding<br><i>in vitro assays</i></div>
<div class="abs t2" style="left:109.5px;top:494.6px;line-height:15px;font-size:12.9px">Introduction of <i>K. nitens</i> genes in<br>model organism <i>Nicotiana benthamiana</i></div>
<div class="abs subt" style="left:383px;width:300px;top:275.3px;line-height:15.4px">Elucidation of auxin-inducible gene<br>expression in <i>K. nitens</i></div>
<div class="abs subt" style="left:383px;width:300px;top:427.3px;font-size:12.98px">Transcription factor KnRAV</div>
<div class="abs t2" style="left:538px;top:343.2px;font-size:12.92px">Cis-regulatory elements</div>
<div class="abs t2" style="left:538px;top:366.9px;font-size:12.92px">Transcription factors</div>
<div class="abs t2" style="left:540px;top:454.4px;line-height:15.3px">Activates several<br>auxin-inducible genes</div>
<div class="abs t2" style="left:540px;top:493.9px;line-height:15.3px">Directly binds the<br>promoter of KnLBD1,<br>a representative<br>auxin-inducible gene</div>
<div class="abs" id="pillt" style="top:575.2px">This study provides insights into the primitive auxin signaling mechanism in<br>algae and the evolution of auxin signaling in photosynthetic organisms</div>
<div class="abs f1" style="top:644.8px">Cis-regulatory elements and transcription factors related to auxin signaling</div>
<div class="abs f1" style="top:657.2px">in the streptophyte algae <i>Klebsormidium nitens</i></div>
<div class="abs f3" style="top:673.3px">Tounosu <i>et al.</i> (2023) | <i>Scientific Reports</i> | 10.1038/s41598-023-36500-x</div>
<div class="abs" style="left:575px;top:670.2px;font-size:7.85px;line-height:10px;color:#fff">Tokyo Institute of Technology</div>
</body></html>
